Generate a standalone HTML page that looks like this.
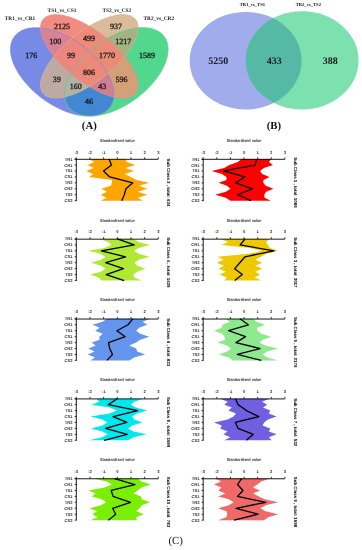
<!DOCTYPE html>
<html><head><meta charset="utf-8"><style>
html,body{margin:0;padding:0;background:#fff;}
svg{display:block;text-rendering:geometricPrecision;}
.na{font-family:"Liberation Serif",serif;font-size:8px;fill:#111;stroke:#111;stroke-width:0.25px;text-anchor:middle;dominant-baseline:central;}
.la{font-family:"Liberation Serif",serif;font-size:5.35px;font-weight:bold;fill:#111;text-anchor:middle;dominant-baseline:central;}
.nb{font-family:"Liberation Serif",serif;font-size:10px;font-weight:bold;fill:#1a1a1a;text-anchor:middle;dominant-baseline:central;}
.lb{font-family:"Liberation Serif",serif;font-size:4.6px;font-weight:bold;fill:#111;text-anchor:middle;dominant-baseline:central;}
.pl{font-family:"Liberation Serif",serif;font-size:10.8px;font-weight:bold;fill:#111;text-anchor:middle;}
.pc{font-family:"Liberation Serif",serif;font-size:10.8px;fill:#111;text-anchor:middle;}
.tk{font-family:"Liberation Sans",sans-serif;font-size:4.2px;font-weight:bold;fill:#333;text-anchor:middle;dominant-baseline:central;}
.yl{font-family:"Liberation Sans",sans-serif;font-size:4.2px;font-weight:bold;fill:#333;text-anchor:end;}
.st{font-family:"Liberation Sans",sans-serif;font-size:4.2px;font-weight:bold;fill:#333;dominant-baseline:central;}
.sc{font-family:"Liberation Sans",sans-serif;font-size:4.4px;font-weight:bold;fill:#000;text-anchor:middle;}
</style></head><body>
<svg width="362" height="550" viewBox="0 0 362 550">
<defs><clipPath id="e1"><path d="M17.32,33.49 L16.45,34.28 L15.64,35.11 L14.88,35.99 L14.19,36.91 L13.55,37.88 L12.97,38.89 L12.45,39.93 L11.99,41.02 L11.59,42.14 L11.26,43.30 L10.98,44.49 L10.77,45.72 L10.62,46.98 L10.54,48.27 L10.51,49.59 L10.55,50.93 L10.66,52.31 L10.82,53.70 L11.05,55.12 L11.34,56.55 L11.69,58.01 L12.10,59.48 L12.58,60.97 L13.11,62.47 L13.71,63.98 L14.36,65.51 L15.07,67.04 L15.84,68.57 L16.66,70.11 L17.54,71.65 L18.48,73.20 L19.47,74.74 L20.51,76.27 L21.60,77.80 L22.74,79.33 L23.93,80.84 L25.16,82.35 L26.44,83.84 L27.76,85.32 L29.13,86.78 L30.54,88.22 L31.98,89.64 L33.46,91.04 L34.98,92.42 L36.52,93.77 L38.10,95.10 L39.71,96.39 L41.35,97.66 L43.01,98.90 L44.70,100.10 L46.40,101.27 L48.13,102.40 L49.87,103.49 L51.63,104.55 L53.40,105.57 L55.18,106.54 L56.97,107.48 L58.76,108.37 L60.56,109.21 L62.36,110.01 L64.17,110.77 L65.97,111.47 L67.76,112.13 L69.55,112.74 L71.33,113.30 L73.09,113.81 L74.85,114.27 L76.58,114.67 L78.31,115.02 L80.01,115.33 L81.69,115.57 L83.34,115.77 L84.97,115.91 L86.57,116.00 L88.14,116.03 L89.68,116.01 L91.19,115.94 L92.66,115.81 L94.10,115.63 L95.49,115.39 L96.85,115.11 L98.16,114.77 L99.43,114.37 L100.65,113.93 L101.83,113.43 L102.95,112.89 L104.03,112.29 L105.06,111.65 L106.03,110.95 L106.95,110.21 L107.82,109.42 L108.63,108.59 L109.39,107.71 L110.08,106.79 L110.72,105.82 L111.30,104.81 L111.82,103.77 L112.28,102.68 L112.68,101.56 L113.01,100.40 L113.29,99.21 L113.50,97.98 L113.65,96.72 L113.73,95.43 L113.76,94.11 L113.72,92.77 L113.61,91.39 L113.45,90.00 L113.22,88.58 L112.93,87.15 L112.58,85.69 L112.17,84.22 L111.69,82.73 L111.16,81.23 L110.56,79.72 L109.91,78.19 L109.20,76.66 L108.43,75.13 L107.61,73.59 L106.73,72.05 L105.79,70.50 L104.80,68.96 L103.76,67.43 L102.67,65.90 L101.53,64.37 L100.34,62.86 L99.11,61.35 L97.83,59.86 L96.51,58.38 L95.14,56.92 L93.73,55.48 L92.29,54.06 L90.81,52.66 L89.29,51.28 L87.75,49.93 L86.17,48.60 L84.56,47.31 L82.92,46.04 L81.26,44.80 L79.57,43.60 L77.87,42.43 L76.14,41.30 L74.40,40.21 L72.64,39.15 L70.87,38.13 L69.09,37.16 L67.30,36.22 L65.51,35.33 L63.71,34.49 L61.91,33.69 L60.10,32.93 L58.30,32.23 L56.51,31.57 L54.72,30.96 L52.94,30.40 L51.18,29.89 L49.42,29.43 L47.69,29.03 L45.96,28.68 L44.26,28.37 L42.58,28.13 L40.93,27.93 L39.30,27.79 L37.70,27.70 L36.13,27.67 L34.59,27.69 L33.08,27.76 L31.61,27.89 L30.17,28.07 L28.78,28.31 L27.42,28.59 L26.11,28.93 L24.84,29.33 L23.62,29.77 L22.44,30.27 L21.32,30.81 L20.24,31.41 L19.21,32.05 L18.24,32.75 Z"/></clipPath><clipPath id="e2"><path d="M44.48,17.99 L43.84,18.59 L43.25,19.23 L42.72,19.92 L42.24,20.65 L41.83,21.43 L41.47,22.25 L41.16,23.11 L40.92,24.01 L40.74,24.95 L40.61,25.93 L40.55,26.94 L40.54,27.99 L40.60,29.08 L40.71,30.20 L40.88,31.35 L41.11,32.53 L41.40,33.74 L41.75,34.98 L42.16,36.24 L42.62,37.53 L43.14,38.84 L43.72,40.18 L44.35,41.53 L45.03,42.90 L45.78,44.29 L46.57,45.69 L47.42,47.10 L48.31,48.53 L49.26,49.96 L50.25,51.41 L51.30,52.86 L52.39,54.31 L53.52,55.77 L54.70,57.22 L55.92,58.68 L57.18,60.13 L58.48,61.58 L59.82,63.02 L61.19,64.46 L62.60,65.88 L64.04,67.29 L65.51,68.69 L67.01,70.07 L68.54,71.44 L70.09,72.79 L71.67,74.12 L73.26,75.43 L74.88,76.71 L76.52,77.97 L78.17,79.20 L79.83,80.41 L81.50,81.58 L83.19,82.73 L84.88,83.84 L86.58,84.92 L88.28,85.96 L89.98,86.97 L91.68,87.94 L93.38,88.88 L95.07,89.77 L96.76,90.62 L98.44,91.43 L100.10,92.20 L101.76,92.92 L103.40,93.60 L105.02,94.24 L106.62,94.82 L108.20,95.36 L109.75,95.86 L111.29,96.30 L112.79,96.70 L114.27,97.05 L115.72,97.35 L117.13,97.59 L118.51,97.79 L119.86,97.94 L121.16,98.04 L122.43,98.08 L123.66,98.08 L124.85,98.02 L125.99,97.91 L127.09,97.76 L128.14,97.55 L129.15,97.29 L130.10,96.98 L131.01,96.63 L131.87,96.22 L132.67,95.76 L133.42,95.26 L134.12,94.71 L134.76,94.11 L135.35,93.47 L135.88,92.78 L136.36,92.05 L136.77,91.27 L137.13,90.45 L137.44,89.59 L137.68,88.69 L137.86,87.75 L137.99,86.77 L138.05,85.76 L138.06,84.71 L138.00,83.62 L137.89,82.50 L137.72,81.35 L137.49,80.17 L137.20,78.96 L136.85,77.72 L136.44,76.46 L135.98,75.17 L135.46,73.86 L134.88,72.52 L134.25,71.17 L133.57,69.80 L132.82,68.41 L132.03,67.01 L131.18,65.60 L130.29,64.17 L129.34,62.74 L128.35,61.29 L127.30,59.84 L126.21,58.39 L125.08,56.93 L123.90,55.48 L122.68,54.02 L121.42,52.57 L120.12,51.12 L118.78,49.68 L117.41,48.24 L116.00,46.82 L114.56,45.41 L113.09,44.01 L111.59,42.63 L110.06,41.26 L108.51,39.91 L106.93,38.58 L105.34,37.27 L103.72,35.99 L102.08,34.73 L100.43,33.50 L98.77,32.29 L97.10,31.12 L95.41,29.97 L93.72,28.86 L92.02,27.78 L90.32,26.74 L88.62,25.73 L86.92,24.76 L85.22,23.82 L83.53,22.93 L81.84,22.08 L80.16,21.27 L78.50,20.50 L76.84,19.78 L75.20,19.10 L73.58,18.46 L71.98,17.88 L70.40,17.34 L68.85,16.84 L67.31,16.40 L65.81,16.00 L64.33,15.65 L62.88,15.35 L61.47,15.11 L60.09,14.91 L58.74,14.76 L57.44,14.66 L56.17,14.62 L54.94,14.62 L53.75,14.68 L52.61,14.79 L51.51,14.94 L50.46,15.15 L49.45,15.41 L48.50,15.72 L47.59,16.07 L46.73,16.48 L45.93,16.94 L45.18,17.44 Z"/></clipPath><clipPath id="e3"><path d="M134.12,17.99 L133.42,17.44 L132.67,16.94 L131.87,16.48 L131.01,16.07 L130.10,15.72 L129.15,15.41 L128.14,15.15 L127.09,14.94 L125.99,14.79 L124.85,14.68 L123.66,14.62 L122.43,14.62 L121.16,14.66 L119.86,14.76 L118.51,14.91 L117.13,15.11 L115.72,15.35 L114.27,15.65 L112.79,16.00 L111.29,16.40 L109.75,16.84 L108.20,17.34 L106.62,17.88 L105.02,18.46 L103.40,19.10 L101.76,19.78 L100.10,20.50 L98.44,21.27 L96.76,22.08 L95.07,22.93 L93.38,23.82 L91.68,24.76 L89.98,25.73 L88.28,26.74 L86.58,27.78 L84.88,28.86 L83.19,29.97 L81.50,31.12 L79.83,32.29 L78.17,33.50 L76.52,34.73 L74.88,35.99 L73.26,37.27 L71.67,38.58 L70.09,39.91 L68.54,41.26 L67.01,42.63 L65.51,44.01 L64.04,45.41 L62.60,46.82 L61.19,48.24 L59.82,49.68 L58.48,51.12 L57.18,52.57 L55.92,54.02 L54.70,55.48 L53.52,56.93 L52.39,58.39 L51.30,59.84 L50.25,61.29 L49.26,62.74 L48.31,64.17 L47.42,65.60 L46.57,67.01 L45.78,68.41 L45.03,69.80 L44.35,71.17 L43.72,72.52 L43.14,73.86 L42.62,75.17 L42.16,76.46 L41.75,77.72 L41.40,78.96 L41.11,80.17 L40.88,81.35 L40.71,82.50 L40.60,83.62 L40.54,84.71 L40.55,85.76 L40.61,86.77 L40.74,87.75 L40.92,88.69 L41.16,89.59 L41.47,90.45 L41.83,91.27 L42.24,92.05 L42.72,92.78 L43.25,93.47 L43.84,94.11 L44.48,94.71 L45.18,95.26 L45.93,95.76 L46.73,96.22 L47.59,96.63 L48.50,96.98 L49.45,97.29 L50.46,97.55 L51.51,97.76 L52.61,97.91 L53.75,98.02 L54.94,98.08 L56.17,98.08 L57.44,98.04 L58.74,97.94 L60.09,97.79 L61.47,97.59 L62.88,97.35 L64.33,97.05 L65.81,96.70 L67.31,96.30 L68.85,95.86 L70.40,95.36 L71.98,94.82 L73.58,94.24 L75.20,93.60 L76.84,92.92 L78.50,92.20 L80.16,91.43 L81.84,90.62 L83.53,89.77 L85.22,88.88 L86.92,87.94 L88.62,86.97 L90.32,85.96 L92.02,84.92 L93.72,83.84 L95.41,82.73 L97.10,81.58 L98.77,80.41 L100.43,79.20 L102.08,77.97 L103.72,76.71 L105.34,75.43 L106.93,74.12 L108.51,72.79 L110.06,71.44 L111.59,70.07 L113.09,68.69 L114.56,67.29 L116.00,65.88 L117.41,64.46 L118.78,63.02 L120.12,61.58 L121.42,60.13 L122.68,58.68 L123.90,57.22 L125.08,55.77 L126.21,54.31 L127.30,52.86 L128.35,51.41 L129.34,49.96 L130.29,48.53 L131.18,47.10 L132.03,45.69 L132.82,44.29 L133.57,42.90 L134.25,41.53 L134.88,40.18 L135.46,38.84 L135.98,37.53 L136.44,36.24 L136.85,34.98 L137.20,33.74 L137.49,32.53 L137.72,31.35 L137.89,30.20 L138.00,29.08 L138.06,27.99 L138.05,26.94 L137.99,25.93 L137.86,24.95 L137.68,24.01 L137.44,23.11 L137.13,22.25 L136.77,21.43 L136.36,20.65 L135.88,19.92 L135.35,19.23 L134.76,18.59 Z"/></clipPath><clipPath id="e4"><path d="M161.28,33.49 L160.36,32.75 L159.39,32.05 L158.36,31.41 L157.28,30.81 L156.16,30.27 L154.98,29.77 L153.76,29.33 L152.49,28.93 L151.18,28.59 L149.82,28.31 L148.43,28.07 L146.99,27.89 L145.52,27.76 L144.01,27.69 L142.47,27.67 L140.90,27.70 L139.30,27.79 L137.67,27.93 L136.02,28.13 L134.34,28.37 L132.64,28.68 L130.91,29.03 L129.18,29.43 L127.42,29.89 L125.66,30.40 L123.88,30.96 L122.09,31.57 L120.30,32.23 L118.50,32.93 L116.69,33.69 L114.89,34.49 L113.09,35.33 L111.30,36.22 L109.51,37.16 L107.73,38.13 L105.96,39.15 L104.20,40.21 L102.46,41.30 L100.73,42.43 L99.03,43.60 L97.34,44.80 L95.68,46.04 L94.04,47.31 L92.43,48.60 L90.85,49.93 L89.31,51.28 L87.79,52.66 L86.31,54.06 L84.87,55.48 L83.46,56.92 L82.09,58.38 L80.77,59.86 L79.49,61.35 L78.26,62.86 L77.07,64.37 L75.93,65.90 L74.84,67.43 L73.80,68.96 L72.81,70.50 L71.87,72.05 L70.99,73.59 L70.17,75.13 L69.40,76.66 L68.69,78.19 L68.04,79.72 L67.44,81.23 L66.91,82.73 L66.43,84.22 L66.02,85.69 L65.67,87.15 L65.38,88.58 L65.15,90.00 L64.99,91.39 L64.88,92.77 L64.84,94.11 L64.87,95.43 L64.95,96.72 L65.10,97.98 L65.31,99.21 L65.59,100.40 L65.92,101.56 L66.32,102.68 L66.78,103.77 L67.30,104.81 L67.88,105.82 L68.52,106.79 L69.21,107.71 L69.97,108.59 L70.78,109.42 L71.65,110.21 L72.57,110.95 L73.54,111.65 L74.57,112.29 L75.65,112.89 L76.77,113.43 L77.95,113.93 L79.17,114.37 L80.44,114.77 L81.75,115.11 L83.11,115.39 L84.50,115.63 L85.94,115.81 L87.41,115.94 L88.92,116.01 L90.46,116.03 L92.03,116.00 L93.63,115.91 L95.26,115.77 L96.91,115.57 L98.59,115.33 L100.29,115.02 L102.02,114.67 L103.75,114.27 L105.51,113.81 L107.27,113.30 L109.05,112.74 L110.84,112.13 L112.63,111.47 L114.43,110.77 L116.24,110.01 L118.04,109.21 L119.84,108.37 L121.63,107.48 L123.42,106.54 L125.20,105.57 L126.97,104.55 L128.73,103.49 L130.47,102.40 L132.20,101.27 L133.90,100.10 L135.59,98.90 L137.25,97.66 L138.89,96.39 L140.50,95.10 L142.08,93.77 L143.62,92.42 L145.14,91.04 L146.62,89.64 L148.06,88.22 L149.47,86.78 L150.84,85.32 L152.16,83.84 L153.44,82.35 L154.67,80.84 L155.86,79.33 L157.00,77.80 L158.09,76.27 L159.13,74.74 L160.12,73.20 L161.06,71.65 L161.94,70.11 L162.76,68.57 L163.53,67.04 L164.24,65.51 L164.89,63.98 L165.49,62.47 L166.02,60.97 L166.50,59.48 L166.91,58.01 L167.26,56.55 L167.55,55.12 L167.78,53.70 L167.94,52.31 L168.05,50.93 L168.09,49.59 L168.06,48.27 L167.98,46.98 L167.83,45.72 L167.62,44.49 L167.34,43.30 L167.01,42.14 L166.61,41.02 L166.15,39.93 L165.63,38.89 L165.05,37.88 L164.41,36.91 L163.72,35.99 L162.96,35.11 L162.15,34.28 Z"/></clipPath><clipPath id="bb"><ellipse cx="245.65" cy="60.7" rx="55.95" ry="48.8"/></clipPath></defs>
<path d="M17.32,33.49 L16.45,34.28 L15.64,35.11 L14.88,35.99 L14.19,36.91 L13.55,37.88 L12.97,38.89 L12.45,39.93 L11.99,41.02 L11.59,42.14 L11.26,43.30 L10.98,44.49 L10.77,45.72 L10.62,46.98 L10.54,48.27 L10.51,49.59 L10.55,50.93 L10.66,52.31 L10.82,53.70 L11.05,55.12 L11.34,56.55 L11.69,58.01 L12.10,59.48 L12.58,60.97 L13.11,62.47 L13.71,63.98 L14.36,65.51 L15.07,67.04 L15.84,68.57 L16.66,70.11 L17.54,71.65 L18.48,73.20 L19.47,74.74 L20.51,76.27 L21.60,77.80 L22.74,79.33 L23.93,80.84 L25.16,82.35 L26.44,83.84 L27.76,85.32 L29.13,86.78 L30.54,88.22 L31.98,89.64 L33.46,91.04 L34.98,92.42 L36.52,93.77 L38.10,95.10 L39.71,96.39 L41.35,97.66 L43.01,98.90 L44.70,100.10 L46.40,101.27 L48.13,102.40 L49.87,103.49 L51.63,104.55 L53.40,105.57 L55.18,106.54 L56.97,107.48 L58.76,108.37 L60.56,109.21 L62.36,110.01 L64.17,110.77 L65.97,111.47 L67.76,112.13 L69.55,112.74 L71.33,113.30 L73.09,113.81 L74.85,114.27 L76.58,114.67 L78.31,115.02 L80.01,115.33 L81.69,115.57 L83.34,115.77 L84.97,115.91 L86.57,116.00 L88.14,116.03 L89.68,116.01 L91.19,115.94 L92.66,115.81 L94.10,115.63 L95.49,115.39 L96.85,115.11 L98.16,114.77 L99.43,114.37 L100.65,113.93 L101.83,113.43 L102.95,112.89 L104.03,112.29 L105.06,111.65 L106.03,110.95 L106.95,110.21 L107.82,109.42 L108.63,108.59 L109.39,107.71 L110.08,106.79 L110.72,105.82 L111.30,104.81 L111.82,103.77 L112.28,102.68 L112.68,101.56 L113.01,100.40 L113.29,99.21 L113.50,97.98 L113.65,96.72 L113.73,95.43 L113.76,94.11 L113.72,92.77 L113.61,91.39 L113.45,90.00 L113.22,88.58 L112.93,87.15 L112.58,85.69 L112.17,84.22 L111.69,82.73 L111.16,81.23 L110.56,79.72 L109.91,78.19 L109.20,76.66 L108.43,75.13 L107.61,73.59 L106.73,72.05 L105.79,70.50 L104.80,68.96 L103.76,67.43 L102.67,65.90 L101.53,64.37 L100.34,62.86 L99.11,61.35 L97.83,59.86 L96.51,58.38 L95.14,56.92 L93.73,55.48 L92.29,54.06 L90.81,52.66 L89.29,51.28 L87.75,49.93 L86.17,48.60 L84.56,47.31 L82.92,46.04 L81.26,44.80 L79.57,43.60 L77.87,42.43 L76.14,41.30 L74.40,40.21 L72.64,39.15 L70.87,38.13 L69.09,37.16 L67.30,36.22 L65.51,35.33 L63.71,34.49 L61.91,33.69 L60.10,32.93 L58.30,32.23 L56.51,31.57 L54.72,30.96 L52.94,30.40 L51.18,29.89 L49.42,29.43 L47.69,29.03 L45.96,28.68 L44.26,28.37 L42.58,28.13 L40.93,27.93 L39.30,27.79 L37.70,27.70 L36.13,27.67 L34.59,27.69 L33.08,27.76 L31.61,27.89 L30.17,28.07 L28.78,28.31 L27.42,28.59 L26.11,28.93 L24.84,29.33 L23.62,29.77 L22.44,30.27 L21.32,30.81 L20.24,31.41 L19.21,32.05 L18.24,32.75 Z" fill="rgb(118,138,230)"/>
<path d="M44.48,17.99 L43.84,18.59 L43.25,19.23 L42.72,19.92 L42.24,20.65 L41.83,21.43 L41.47,22.25 L41.16,23.11 L40.92,24.01 L40.74,24.95 L40.61,25.93 L40.55,26.94 L40.54,27.99 L40.60,29.08 L40.71,30.20 L40.88,31.35 L41.11,32.53 L41.40,33.74 L41.75,34.98 L42.16,36.24 L42.62,37.53 L43.14,38.84 L43.72,40.18 L44.35,41.53 L45.03,42.90 L45.78,44.29 L46.57,45.69 L47.42,47.10 L48.31,48.53 L49.26,49.96 L50.25,51.41 L51.30,52.86 L52.39,54.31 L53.52,55.77 L54.70,57.22 L55.92,58.68 L57.18,60.13 L58.48,61.58 L59.82,63.02 L61.19,64.46 L62.60,65.88 L64.04,67.29 L65.51,68.69 L67.01,70.07 L68.54,71.44 L70.09,72.79 L71.67,74.12 L73.26,75.43 L74.88,76.71 L76.52,77.97 L78.17,79.20 L79.83,80.41 L81.50,81.58 L83.19,82.73 L84.88,83.84 L86.58,84.92 L88.28,85.96 L89.98,86.97 L91.68,87.94 L93.38,88.88 L95.07,89.77 L96.76,90.62 L98.44,91.43 L100.10,92.20 L101.76,92.92 L103.40,93.60 L105.02,94.24 L106.62,94.82 L108.20,95.36 L109.75,95.86 L111.29,96.30 L112.79,96.70 L114.27,97.05 L115.72,97.35 L117.13,97.59 L118.51,97.79 L119.86,97.94 L121.16,98.04 L122.43,98.08 L123.66,98.08 L124.85,98.02 L125.99,97.91 L127.09,97.76 L128.14,97.55 L129.15,97.29 L130.10,96.98 L131.01,96.63 L131.87,96.22 L132.67,95.76 L133.42,95.26 L134.12,94.71 L134.76,94.11 L135.35,93.47 L135.88,92.78 L136.36,92.05 L136.77,91.27 L137.13,90.45 L137.44,89.59 L137.68,88.69 L137.86,87.75 L137.99,86.77 L138.05,85.76 L138.06,84.71 L138.00,83.62 L137.89,82.50 L137.72,81.35 L137.49,80.17 L137.20,78.96 L136.85,77.72 L136.44,76.46 L135.98,75.17 L135.46,73.86 L134.88,72.52 L134.25,71.17 L133.57,69.80 L132.82,68.41 L132.03,67.01 L131.18,65.60 L130.29,64.17 L129.34,62.74 L128.35,61.29 L127.30,59.84 L126.21,58.39 L125.08,56.93 L123.90,55.48 L122.68,54.02 L121.42,52.57 L120.12,51.12 L118.78,49.68 L117.41,48.24 L116.00,46.82 L114.56,45.41 L113.09,44.01 L111.59,42.63 L110.06,41.26 L108.51,39.91 L106.93,38.58 L105.34,37.27 L103.72,35.99 L102.08,34.73 L100.43,33.50 L98.77,32.29 L97.10,31.12 L95.41,29.97 L93.72,28.86 L92.02,27.78 L90.32,26.74 L88.62,25.73 L86.92,24.76 L85.22,23.82 L83.53,22.93 L81.84,22.08 L80.16,21.27 L78.50,20.50 L76.84,19.78 L75.20,19.10 L73.58,18.46 L71.98,17.88 L70.40,17.34 L68.85,16.84 L67.31,16.40 L65.81,16.00 L64.33,15.65 L62.88,15.35 L61.47,15.11 L60.09,14.91 L58.74,14.76 L57.44,14.66 L56.17,14.62 L54.94,14.62 L53.75,14.68 L52.61,14.79 L51.51,14.94 L50.46,15.15 L49.45,15.41 L48.50,15.72 L47.59,16.07 L46.73,16.48 L45.93,16.94 L45.18,17.44 Z" fill="rgb(242,140,130)"/>
<path d="M134.12,17.99 L133.42,17.44 L132.67,16.94 L131.87,16.48 L131.01,16.07 L130.10,15.72 L129.15,15.41 L128.14,15.15 L127.09,14.94 L125.99,14.79 L124.85,14.68 L123.66,14.62 L122.43,14.62 L121.16,14.66 L119.86,14.76 L118.51,14.91 L117.13,15.11 L115.72,15.35 L114.27,15.65 L112.79,16.00 L111.29,16.40 L109.75,16.84 L108.20,17.34 L106.62,17.88 L105.02,18.46 L103.40,19.10 L101.76,19.78 L100.10,20.50 L98.44,21.27 L96.76,22.08 L95.07,22.93 L93.38,23.82 L91.68,24.76 L89.98,25.73 L88.28,26.74 L86.58,27.78 L84.88,28.86 L83.19,29.97 L81.50,31.12 L79.83,32.29 L78.17,33.50 L76.52,34.73 L74.88,35.99 L73.26,37.27 L71.67,38.58 L70.09,39.91 L68.54,41.26 L67.01,42.63 L65.51,44.01 L64.04,45.41 L62.60,46.82 L61.19,48.24 L59.82,49.68 L58.48,51.12 L57.18,52.57 L55.92,54.02 L54.70,55.48 L53.52,56.93 L52.39,58.39 L51.30,59.84 L50.25,61.29 L49.26,62.74 L48.31,64.17 L47.42,65.60 L46.57,67.01 L45.78,68.41 L45.03,69.80 L44.35,71.17 L43.72,72.52 L43.14,73.86 L42.62,75.17 L42.16,76.46 L41.75,77.72 L41.40,78.96 L41.11,80.17 L40.88,81.35 L40.71,82.50 L40.60,83.62 L40.54,84.71 L40.55,85.76 L40.61,86.77 L40.74,87.75 L40.92,88.69 L41.16,89.59 L41.47,90.45 L41.83,91.27 L42.24,92.05 L42.72,92.78 L43.25,93.47 L43.84,94.11 L44.48,94.71 L45.18,95.26 L45.93,95.76 L46.73,96.22 L47.59,96.63 L48.50,96.98 L49.45,97.29 L50.46,97.55 L51.51,97.76 L52.61,97.91 L53.75,98.02 L54.94,98.08 L56.17,98.08 L57.44,98.04 L58.74,97.94 L60.09,97.79 L61.47,97.59 L62.88,97.35 L64.33,97.05 L65.81,96.70 L67.31,96.30 L68.85,95.86 L70.40,95.36 L71.98,94.82 L73.58,94.24 L75.20,93.60 L76.84,92.92 L78.50,92.20 L80.16,91.43 L81.84,90.62 L83.53,89.77 L85.22,88.88 L86.92,87.94 L88.62,86.97 L90.32,85.96 L92.02,84.92 L93.72,83.84 L95.41,82.73 L97.10,81.58 L98.77,80.41 L100.43,79.20 L102.08,77.97 L103.72,76.71 L105.34,75.43 L106.93,74.12 L108.51,72.79 L110.06,71.44 L111.59,70.07 L113.09,68.69 L114.56,67.29 L116.00,65.88 L117.41,64.46 L118.78,63.02 L120.12,61.58 L121.42,60.13 L122.68,58.68 L123.90,57.22 L125.08,55.77 L126.21,54.31 L127.30,52.86 L128.35,51.41 L129.34,49.96 L130.29,48.53 L131.18,47.10 L132.03,45.69 L132.82,44.29 L133.57,42.90 L134.25,41.53 L134.88,40.18 L135.46,38.84 L135.98,37.53 L136.44,36.24 L136.85,34.98 L137.20,33.74 L137.49,32.53 L137.72,31.35 L137.89,30.20 L138.00,29.08 L138.06,27.99 L138.05,26.94 L137.99,25.93 L137.86,24.95 L137.68,24.01 L137.44,23.11 L137.13,22.25 L136.77,21.43 L136.36,20.65 L135.88,19.92 L135.35,19.23 L134.76,18.59 Z" fill="rgb(218,188,155)"/>
<path d="M161.28,33.49 L160.36,32.75 L159.39,32.05 L158.36,31.41 L157.28,30.81 L156.16,30.27 L154.98,29.77 L153.76,29.33 L152.49,28.93 L151.18,28.59 L149.82,28.31 L148.43,28.07 L146.99,27.89 L145.52,27.76 L144.01,27.69 L142.47,27.67 L140.90,27.70 L139.30,27.79 L137.67,27.93 L136.02,28.13 L134.34,28.37 L132.64,28.68 L130.91,29.03 L129.18,29.43 L127.42,29.89 L125.66,30.40 L123.88,30.96 L122.09,31.57 L120.30,32.23 L118.50,32.93 L116.69,33.69 L114.89,34.49 L113.09,35.33 L111.30,36.22 L109.51,37.16 L107.73,38.13 L105.96,39.15 L104.20,40.21 L102.46,41.30 L100.73,42.43 L99.03,43.60 L97.34,44.80 L95.68,46.04 L94.04,47.31 L92.43,48.60 L90.85,49.93 L89.31,51.28 L87.79,52.66 L86.31,54.06 L84.87,55.48 L83.46,56.92 L82.09,58.38 L80.77,59.86 L79.49,61.35 L78.26,62.86 L77.07,64.37 L75.93,65.90 L74.84,67.43 L73.80,68.96 L72.81,70.50 L71.87,72.05 L70.99,73.59 L70.17,75.13 L69.40,76.66 L68.69,78.19 L68.04,79.72 L67.44,81.23 L66.91,82.73 L66.43,84.22 L66.02,85.69 L65.67,87.15 L65.38,88.58 L65.15,90.00 L64.99,91.39 L64.88,92.77 L64.84,94.11 L64.87,95.43 L64.95,96.72 L65.10,97.98 L65.31,99.21 L65.59,100.40 L65.92,101.56 L66.32,102.68 L66.78,103.77 L67.30,104.81 L67.88,105.82 L68.52,106.79 L69.21,107.71 L69.97,108.59 L70.78,109.42 L71.65,110.21 L72.57,110.95 L73.54,111.65 L74.57,112.29 L75.65,112.89 L76.77,113.43 L77.95,113.93 L79.17,114.37 L80.44,114.77 L81.75,115.11 L83.11,115.39 L84.50,115.63 L85.94,115.81 L87.41,115.94 L88.92,116.01 L90.46,116.03 L92.03,116.00 L93.63,115.91 L95.26,115.77 L96.91,115.57 L98.59,115.33 L100.29,115.02 L102.02,114.67 L103.75,114.27 L105.51,113.81 L107.27,113.30 L109.05,112.74 L110.84,112.13 L112.63,111.47 L114.43,110.77 L116.24,110.01 L118.04,109.21 L119.84,108.37 L121.63,107.48 L123.42,106.54 L125.20,105.57 L126.97,104.55 L128.73,103.49 L130.47,102.40 L132.20,101.27 L133.90,100.10 L135.59,98.90 L137.25,97.66 L138.89,96.39 L140.50,95.10 L142.08,93.77 L143.62,92.42 L145.14,91.04 L146.62,89.64 L148.06,88.22 L149.47,86.78 L150.84,85.32 L152.16,83.84 L153.44,82.35 L154.67,80.84 L155.86,79.33 L157.00,77.80 L158.09,76.27 L159.13,74.74 L160.12,73.20 L161.06,71.65 L161.94,70.11 L162.76,68.57 L163.53,67.04 L164.24,65.51 L164.89,63.98 L165.49,62.47 L166.02,60.97 L166.50,59.48 L166.91,58.01 L167.26,56.55 L167.55,55.12 L167.78,53.70 L167.94,52.31 L168.05,50.93 L168.09,49.59 L168.06,48.27 L167.98,46.98 L167.83,45.72 L167.62,44.49 L167.34,43.30 L167.01,42.14 L166.61,41.02 L166.15,39.93 L165.63,38.89 L165.05,37.88 L164.41,36.91 L163.72,35.99 L162.96,35.11 L162.15,34.28 Z" fill="rgb(82,215,142)"/>
<g clip-path="url(#e1)"><path d="M44.48,17.99 L43.84,18.59 L43.25,19.23 L42.72,19.92 L42.24,20.65 L41.83,21.43 L41.47,22.25 L41.16,23.11 L40.92,24.01 L40.74,24.95 L40.61,25.93 L40.55,26.94 L40.54,27.99 L40.60,29.08 L40.71,30.20 L40.88,31.35 L41.11,32.53 L41.40,33.74 L41.75,34.98 L42.16,36.24 L42.62,37.53 L43.14,38.84 L43.72,40.18 L44.35,41.53 L45.03,42.90 L45.78,44.29 L46.57,45.69 L47.42,47.10 L48.31,48.53 L49.26,49.96 L50.25,51.41 L51.30,52.86 L52.39,54.31 L53.52,55.77 L54.70,57.22 L55.92,58.68 L57.18,60.13 L58.48,61.58 L59.82,63.02 L61.19,64.46 L62.60,65.88 L64.04,67.29 L65.51,68.69 L67.01,70.07 L68.54,71.44 L70.09,72.79 L71.67,74.12 L73.26,75.43 L74.88,76.71 L76.52,77.97 L78.17,79.20 L79.83,80.41 L81.50,81.58 L83.19,82.73 L84.88,83.84 L86.58,84.92 L88.28,85.96 L89.98,86.97 L91.68,87.94 L93.38,88.88 L95.07,89.77 L96.76,90.62 L98.44,91.43 L100.10,92.20 L101.76,92.92 L103.40,93.60 L105.02,94.24 L106.62,94.82 L108.20,95.36 L109.75,95.86 L111.29,96.30 L112.79,96.70 L114.27,97.05 L115.72,97.35 L117.13,97.59 L118.51,97.79 L119.86,97.94 L121.16,98.04 L122.43,98.08 L123.66,98.08 L124.85,98.02 L125.99,97.91 L127.09,97.76 L128.14,97.55 L129.15,97.29 L130.10,96.98 L131.01,96.63 L131.87,96.22 L132.67,95.76 L133.42,95.26 L134.12,94.71 L134.76,94.11 L135.35,93.47 L135.88,92.78 L136.36,92.05 L136.77,91.27 L137.13,90.45 L137.44,89.59 L137.68,88.69 L137.86,87.75 L137.99,86.77 L138.05,85.76 L138.06,84.71 L138.00,83.62 L137.89,82.50 L137.72,81.35 L137.49,80.17 L137.20,78.96 L136.85,77.72 L136.44,76.46 L135.98,75.17 L135.46,73.86 L134.88,72.52 L134.25,71.17 L133.57,69.80 L132.82,68.41 L132.03,67.01 L131.18,65.60 L130.29,64.17 L129.34,62.74 L128.35,61.29 L127.30,59.84 L126.21,58.39 L125.08,56.93 L123.90,55.48 L122.68,54.02 L121.42,52.57 L120.12,51.12 L118.78,49.68 L117.41,48.24 L116.00,46.82 L114.56,45.41 L113.09,44.01 L111.59,42.63 L110.06,41.26 L108.51,39.91 L106.93,38.58 L105.34,37.27 L103.72,35.99 L102.08,34.73 L100.43,33.50 L98.77,32.29 L97.10,31.12 L95.41,29.97 L93.72,28.86 L92.02,27.78 L90.32,26.74 L88.62,25.73 L86.92,24.76 L85.22,23.82 L83.53,22.93 L81.84,22.08 L80.16,21.27 L78.50,20.50 L76.84,19.78 L75.20,19.10 L73.58,18.46 L71.98,17.88 L70.40,17.34 L68.85,16.84 L67.31,16.40 L65.81,16.00 L64.33,15.65 L62.88,15.35 L61.47,15.11 L60.09,14.91 L58.74,14.76 L57.44,14.66 L56.17,14.62 L54.94,14.62 L53.75,14.68 L52.61,14.79 L51.51,14.94 L50.46,15.15 L49.45,15.41 L48.50,15.72 L47.59,16.07 L46.73,16.48 L45.93,16.94 L45.18,17.44 Z" fill="rgb(215,130,150)"/></g>
<g clip-path="url(#e1)"><path d="M134.12,17.99 L133.42,17.44 L132.67,16.94 L131.87,16.48 L131.01,16.07 L130.10,15.72 L129.15,15.41 L128.14,15.15 L127.09,14.94 L125.99,14.79 L124.85,14.68 L123.66,14.62 L122.43,14.62 L121.16,14.66 L119.86,14.76 L118.51,14.91 L117.13,15.11 L115.72,15.35 L114.27,15.65 L112.79,16.00 L111.29,16.40 L109.75,16.84 L108.20,17.34 L106.62,17.88 L105.02,18.46 L103.40,19.10 L101.76,19.78 L100.10,20.50 L98.44,21.27 L96.76,22.08 L95.07,22.93 L93.38,23.82 L91.68,24.76 L89.98,25.73 L88.28,26.74 L86.58,27.78 L84.88,28.86 L83.19,29.97 L81.50,31.12 L79.83,32.29 L78.17,33.50 L76.52,34.73 L74.88,35.99 L73.26,37.27 L71.67,38.58 L70.09,39.91 L68.54,41.26 L67.01,42.63 L65.51,44.01 L64.04,45.41 L62.60,46.82 L61.19,48.24 L59.82,49.68 L58.48,51.12 L57.18,52.57 L55.92,54.02 L54.70,55.48 L53.52,56.93 L52.39,58.39 L51.30,59.84 L50.25,61.29 L49.26,62.74 L48.31,64.17 L47.42,65.60 L46.57,67.01 L45.78,68.41 L45.03,69.80 L44.35,71.17 L43.72,72.52 L43.14,73.86 L42.62,75.17 L42.16,76.46 L41.75,77.72 L41.40,78.96 L41.11,80.17 L40.88,81.35 L40.71,82.50 L40.60,83.62 L40.54,84.71 L40.55,85.76 L40.61,86.77 L40.74,87.75 L40.92,88.69 L41.16,89.59 L41.47,90.45 L41.83,91.27 L42.24,92.05 L42.72,92.78 L43.25,93.47 L43.84,94.11 L44.48,94.71 L45.18,95.26 L45.93,95.76 L46.73,96.22 L47.59,96.63 L48.50,96.98 L49.45,97.29 L50.46,97.55 L51.51,97.76 L52.61,97.91 L53.75,98.02 L54.94,98.08 L56.17,98.08 L57.44,98.04 L58.74,97.94 L60.09,97.79 L61.47,97.59 L62.88,97.35 L64.33,97.05 L65.81,96.70 L67.31,96.30 L68.85,95.86 L70.40,95.36 L71.98,94.82 L73.58,94.24 L75.20,93.60 L76.84,92.92 L78.50,92.20 L80.16,91.43 L81.84,90.62 L83.53,89.77 L85.22,88.88 L86.92,87.94 L88.62,86.97 L90.32,85.96 L92.02,84.92 L93.72,83.84 L95.41,82.73 L97.10,81.58 L98.77,80.41 L100.43,79.20 L102.08,77.97 L103.72,76.71 L105.34,75.43 L106.93,74.12 L108.51,72.79 L110.06,71.44 L111.59,70.07 L113.09,68.69 L114.56,67.29 L116.00,65.88 L117.41,64.46 L118.78,63.02 L120.12,61.58 L121.42,60.13 L122.68,58.68 L123.90,57.22 L125.08,55.77 L126.21,54.31 L127.30,52.86 L128.35,51.41 L129.34,49.96 L130.29,48.53 L131.18,47.10 L132.03,45.69 L132.82,44.29 L133.57,42.90 L134.25,41.53 L134.88,40.18 L135.46,38.84 L135.98,37.53 L136.44,36.24 L136.85,34.98 L137.20,33.74 L137.49,32.53 L137.72,31.35 L137.89,30.20 L138.00,29.08 L138.06,27.99 L138.05,26.94 L137.99,25.93 L137.86,24.95 L137.68,24.01 L137.44,23.11 L137.13,22.25 L136.77,21.43 L136.36,20.65 L135.88,19.92 L135.35,19.23 L134.76,18.59 Z" fill="rgb(190,170,165)"/></g>
<g clip-path="url(#e1)"><path d="M161.28,33.49 L160.36,32.75 L159.39,32.05 L158.36,31.41 L157.28,30.81 L156.16,30.27 L154.98,29.77 L153.76,29.33 L152.49,28.93 L151.18,28.59 L149.82,28.31 L148.43,28.07 L146.99,27.89 L145.52,27.76 L144.01,27.69 L142.47,27.67 L140.90,27.70 L139.30,27.79 L137.67,27.93 L136.02,28.13 L134.34,28.37 L132.64,28.68 L130.91,29.03 L129.18,29.43 L127.42,29.89 L125.66,30.40 L123.88,30.96 L122.09,31.57 L120.30,32.23 L118.50,32.93 L116.69,33.69 L114.89,34.49 L113.09,35.33 L111.30,36.22 L109.51,37.16 L107.73,38.13 L105.96,39.15 L104.20,40.21 L102.46,41.30 L100.73,42.43 L99.03,43.60 L97.34,44.80 L95.68,46.04 L94.04,47.31 L92.43,48.60 L90.85,49.93 L89.31,51.28 L87.79,52.66 L86.31,54.06 L84.87,55.48 L83.46,56.92 L82.09,58.38 L80.77,59.86 L79.49,61.35 L78.26,62.86 L77.07,64.37 L75.93,65.90 L74.84,67.43 L73.80,68.96 L72.81,70.50 L71.87,72.05 L70.99,73.59 L70.17,75.13 L69.40,76.66 L68.69,78.19 L68.04,79.72 L67.44,81.23 L66.91,82.73 L66.43,84.22 L66.02,85.69 L65.67,87.15 L65.38,88.58 L65.15,90.00 L64.99,91.39 L64.88,92.77 L64.84,94.11 L64.87,95.43 L64.95,96.72 L65.10,97.98 L65.31,99.21 L65.59,100.40 L65.92,101.56 L66.32,102.68 L66.78,103.77 L67.30,104.81 L67.88,105.82 L68.52,106.79 L69.21,107.71 L69.97,108.59 L70.78,109.42 L71.65,110.21 L72.57,110.95 L73.54,111.65 L74.57,112.29 L75.65,112.89 L76.77,113.43 L77.95,113.93 L79.17,114.37 L80.44,114.77 L81.75,115.11 L83.11,115.39 L84.50,115.63 L85.94,115.81 L87.41,115.94 L88.92,116.01 L90.46,116.03 L92.03,116.00 L93.63,115.91 L95.26,115.77 L96.91,115.57 L98.59,115.33 L100.29,115.02 L102.02,114.67 L103.75,114.27 L105.51,113.81 L107.27,113.30 L109.05,112.74 L110.84,112.13 L112.63,111.47 L114.43,110.77 L116.24,110.01 L118.04,109.21 L119.84,108.37 L121.63,107.48 L123.42,106.54 L125.20,105.57 L126.97,104.55 L128.73,103.49 L130.47,102.40 L132.20,101.27 L133.90,100.10 L135.59,98.90 L137.25,97.66 L138.89,96.39 L140.50,95.10 L142.08,93.77 L143.62,92.42 L145.14,91.04 L146.62,89.64 L148.06,88.22 L149.47,86.78 L150.84,85.32 L152.16,83.84 L153.44,82.35 L154.67,80.84 L155.86,79.33 L157.00,77.80 L158.09,76.27 L159.13,74.74 L160.12,73.20 L161.06,71.65 L161.94,70.11 L162.76,68.57 L163.53,67.04 L164.24,65.51 L164.89,63.98 L165.49,62.47 L166.02,60.97 L166.50,59.48 L166.91,58.01 L167.26,56.55 L167.55,55.12 L167.78,53.70 L167.94,52.31 L168.05,50.93 L168.09,49.59 L168.06,48.27 L167.98,46.98 L167.83,45.72 L167.62,44.49 L167.34,43.30 L167.01,42.14 L166.61,41.02 L166.15,39.93 L165.63,38.89 L165.05,37.88 L164.41,36.91 L163.72,35.99 L162.96,35.11 L162.15,34.28 Z" fill="rgb(65,135,210)"/></g>
<g clip-path="url(#e2)"><path d="M134.12,17.99 L133.42,17.44 L132.67,16.94 L131.87,16.48 L131.01,16.07 L130.10,15.72 L129.15,15.41 L128.14,15.15 L127.09,14.94 L125.99,14.79 L124.85,14.68 L123.66,14.62 L122.43,14.62 L121.16,14.66 L119.86,14.76 L118.51,14.91 L117.13,15.11 L115.72,15.35 L114.27,15.65 L112.79,16.00 L111.29,16.40 L109.75,16.84 L108.20,17.34 L106.62,17.88 L105.02,18.46 L103.40,19.10 L101.76,19.78 L100.10,20.50 L98.44,21.27 L96.76,22.08 L95.07,22.93 L93.38,23.82 L91.68,24.76 L89.98,25.73 L88.28,26.74 L86.58,27.78 L84.88,28.86 L83.19,29.97 L81.50,31.12 L79.83,32.29 L78.17,33.50 L76.52,34.73 L74.88,35.99 L73.26,37.27 L71.67,38.58 L70.09,39.91 L68.54,41.26 L67.01,42.63 L65.51,44.01 L64.04,45.41 L62.60,46.82 L61.19,48.24 L59.82,49.68 L58.48,51.12 L57.18,52.57 L55.92,54.02 L54.70,55.48 L53.52,56.93 L52.39,58.39 L51.30,59.84 L50.25,61.29 L49.26,62.74 L48.31,64.17 L47.42,65.60 L46.57,67.01 L45.78,68.41 L45.03,69.80 L44.35,71.17 L43.72,72.52 L43.14,73.86 L42.62,75.17 L42.16,76.46 L41.75,77.72 L41.40,78.96 L41.11,80.17 L40.88,81.35 L40.71,82.50 L40.60,83.62 L40.54,84.71 L40.55,85.76 L40.61,86.77 L40.74,87.75 L40.92,88.69 L41.16,89.59 L41.47,90.45 L41.83,91.27 L42.24,92.05 L42.72,92.78 L43.25,93.47 L43.84,94.11 L44.48,94.71 L45.18,95.26 L45.93,95.76 L46.73,96.22 L47.59,96.63 L48.50,96.98 L49.45,97.29 L50.46,97.55 L51.51,97.76 L52.61,97.91 L53.75,98.02 L54.94,98.08 L56.17,98.08 L57.44,98.04 L58.74,97.94 L60.09,97.79 L61.47,97.59 L62.88,97.35 L64.33,97.05 L65.81,96.70 L67.31,96.30 L68.85,95.86 L70.40,95.36 L71.98,94.82 L73.58,94.24 L75.20,93.60 L76.84,92.92 L78.50,92.20 L80.16,91.43 L81.84,90.62 L83.53,89.77 L85.22,88.88 L86.92,87.94 L88.62,86.97 L90.32,85.96 L92.02,84.92 L93.72,83.84 L95.41,82.73 L97.10,81.58 L98.77,80.41 L100.43,79.20 L102.08,77.97 L103.72,76.71 L105.34,75.43 L106.93,74.12 L108.51,72.79 L110.06,71.44 L111.59,70.07 L113.09,68.69 L114.56,67.29 L116.00,65.88 L117.41,64.46 L118.78,63.02 L120.12,61.58 L121.42,60.13 L122.68,58.68 L123.90,57.22 L125.08,55.77 L126.21,54.31 L127.30,52.86 L128.35,51.41 L129.34,49.96 L130.29,48.53 L131.18,47.10 L132.03,45.69 L132.82,44.29 L133.57,42.90 L134.25,41.53 L134.88,40.18 L135.46,38.84 L135.98,37.53 L136.44,36.24 L136.85,34.98 L137.20,33.74 L137.49,32.53 L137.72,31.35 L137.89,30.20 L138.00,29.08 L138.06,27.99 L138.05,26.94 L137.99,25.93 L137.86,24.95 L137.68,24.01 L137.44,23.11 L137.13,22.25 L136.77,21.43 L136.36,20.65 L135.88,19.92 L135.35,19.23 L134.76,18.59 Z" fill="rgb(238,138,122)"/></g>
<g clip-path="url(#e2)"><path d="M161.28,33.49 L160.36,32.75 L159.39,32.05 L158.36,31.41 L157.28,30.81 L156.16,30.27 L154.98,29.77 L153.76,29.33 L152.49,28.93 L151.18,28.59 L149.82,28.31 L148.43,28.07 L146.99,27.89 L145.52,27.76 L144.01,27.69 L142.47,27.67 L140.90,27.70 L139.30,27.79 L137.67,27.93 L136.02,28.13 L134.34,28.37 L132.64,28.68 L130.91,29.03 L129.18,29.43 L127.42,29.89 L125.66,30.40 L123.88,30.96 L122.09,31.57 L120.30,32.23 L118.50,32.93 L116.69,33.69 L114.89,34.49 L113.09,35.33 L111.30,36.22 L109.51,37.16 L107.73,38.13 L105.96,39.15 L104.20,40.21 L102.46,41.30 L100.73,42.43 L99.03,43.60 L97.34,44.80 L95.68,46.04 L94.04,47.31 L92.43,48.60 L90.85,49.93 L89.31,51.28 L87.79,52.66 L86.31,54.06 L84.87,55.48 L83.46,56.92 L82.09,58.38 L80.77,59.86 L79.49,61.35 L78.26,62.86 L77.07,64.37 L75.93,65.90 L74.84,67.43 L73.80,68.96 L72.81,70.50 L71.87,72.05 L70.99,73.59 L70.17,75.13 L69.40,76.66 L68.69,78.19 L68.04,79.72 L67.44,81.23 L66.91,82.73 L66.43,84.22 L66.02,85.69 L65.67,87.15 L65.38,88.58 L65.15,90.00 L64.99,91.39 L64.88,92.77 L64.84,94.11 L64.87,95.43 L64.95,96.72 L65.10,97.98 L65.31,99.21 L65.59,100.40 L65.92,101.56 L66.32,102.68 L66.78,103.77 L67.30,104.81 L67.88,105.82 L68.52,106.79 L69.21,107.71 L69.97,108.59 L70.78,109.42 L71.65,110.21 L72.57,110.95 L73.54,111.65 L74.57,112.29 L75.65,112.89 L76.77,113.43 L77.95,113.93 L79.17,114.37 L80.44,114.77 L81.75,115.11 L83.11,115.39 L84.50,115.63 L85.94,115.81 L87.41,115.94 L88.92,116.01 L90.46,116.03 L92.03,116.00 L93.63,115.91 L95.26,115.77 L96.91,115.57 L98.59,115.33 L100.29,115.02 L102.02,114.67 L103.75,114.27 L105.51,113.81 L107.27,113.30 L109.05,112.74 L110.84,112.13 L112.63,111.47 L114.43,110.77 L116.24,110.01 L118.04,109.21 L119.84,108.37 L121.63,107.48 L123.42,106.54 L125.20,105.57 L126.97,104.55 L128.73,103.49 L130.47,102.40 L132.20,101.27 L133.90,100.10 L135.59,98.90 L137.25,97.66 L138.89,96.39 L140.50,95.10 L142.08,93.77 L143.62,92.42 L145.14,91.04 L146.62,89.64 L148.06,88.22 L149.47,86.78 L150.84,85.32 L152.16,83.84 L153.44,82.35 L154.67,80.84 L155.86,79.33 L157.00,77.80 L158.09,76.27 L159.13,74.74 L160.12,73.20 L161.06,71.65 L161.94,70.11 L162.76,68.57 L163.53,67.04 L164.24,65.51 L164.89,63.98 L165.49,62.47 L166.02,60.97 L166.50,59.48 L166.91,58.01 L167.26,56.55 L167.55,55.12 L167.78,53.70 L167.94,52.31 L168.05,50.93 L168.09,49.59 L168.06,48.27 L167.98,46.98 L167.83,45.72 L167.62,44.49 L167.34,43.30 L167.01,42.14 L166.61,41.02 L166.15,39.93 L165.63,38.89 L165.05,37.88 L164.41,36.91 L163.72,35.99 L162.96,35.11 L162.15,34.28 Z" fill="rgb(212,160,120)"/></g>
<g clip-path="url(#e3)"><path d="M161.28,33.49 L160.36,32.75 L159.39,32.05 L158.36,31.41 L157.28,30.81 L156.16,30.27 L154.98,29.77 L153.76,29.33 L152.49,28.93 L151.18,28.59 L149.82,28.31 L148.43,28.07 L146.99,27.89 L145.52,27.76 L144.01,27.69 L142.47,27.67 L140.90,27.70 L139.30,27.79 L137.67,27.93 L136.02,28.13 L134.34,28.37 L132.64,28.68 L130.91,29.03 L129.18,29.43 L127.42,29.89 L125.66,30.40 L123.88,30.96 L122.09,31.57 L120.30,32.23 L118.50,32.93 L116.69,33.69 L114.89,34.49 L113.09,35.33 L111.30,36.22 L109.51,37.16 L107.73,38.13 L105.96,39.15 L104.20,40.21 L102.46,41.30 L100.73,42.43 L99.03,43.60 L97.34,44.80 L95.68,46.04 L94.04,47.31 L92.43,48.60 L90.85,49.93 L89.31,51.28 L87.79,52.66 L86.31,54.06 L84.87,55.48 L83.46,56.92 L82.09,58.38 L80.77,59.86 L79.49,61.35 L78.26,62.86 L77.07,64.37 L75.93,65.90 L74.84,67.43 L73.80,68.96 L72.81,70.50 L71.87,72.05 L70.99,73.59 L70.17,75.13 L69.40,76.66 L68.69,78.19 L68.04,79.72 L67.44,81.23 L66.91,82.73 L66.43,84.22 L66.02,85.69 L65.67,87.15 L65.38,88.58 L65.15,90.00 L64.99,91.39 L64.88,92.77 L64.84,94.11 L64.87,95.43 L64.95,96.72 L65.10,97.98 L65.31,99.21 L65.59,100.40 L65.92,101.56 L66.32,102.68 L66.78,103.77 L67.30,104.81 L67.88,105.82 L68.52,106.79 L69.21,107.71 L69.97,108.59 L70.78,109.42 L71.65,110.21 L72.57,110.95 L73.54,111.65 L74.57,112.29 L75.65,112.89 L76.77,113.43 L77.95,113.93 L79.17,114.37 L80.44,114.77 L81.75,115.11 L83.11,115.39 L84.50,115.63 L85.94,115.81 L87.41,115.94 L88.92,116.01 L90.46,116.03 L92.03,116.00 L93.63,115.91 L95.26,115.77 L96.91,115.57 L98.59,115.33 L100.29,115.02 L102.02,114.67 L103.75,114.27 L105.51,113.81 L107.27,113.30 L109.05,112.74 L110.84,112.13 L112.63,111.47 L114.43,110.77 L116.24,110.01 L118.04,109.21 L119.84,108.37 L121.63,107.48 L123.42,106.54 L125.20,105.57 L126.97,104.55 L128.73,103.49 L130.47,102.40 L132.20,101.27 L133.90,100.10 L135.59,98.90 L137.25,97.66 L138.89,96.39 L140.50,95.10 L142.08,93.77 L143.62,92.42 L145.14,91.04 L146.62,89.64 L148.06,88.22 L149.47,86.78 L150.84,85.32 L152.16,83.84 L153.44,82.35 L154.67,80.84 L155.86,79.33 L157.00,77.80 L158.09,76.27 L159.13,74.74 L160.12,73.20 L161.06,71.65 L161.94,70.11 L162.76,68.57 L163.53,67.04 L164.24,65.51 L164.89,63.98 L165.49,62.47 L166.02,60.97 L166.50,59.48 L166.91,58.01 L167.26,56.55 L167.55,55.12 L167.78,53.70 L167.94,52.31 L168.05,50.93 L168.09,49.59 L168.06,48.27 L167.98,46.98 L167.83,45.72 L167.62,44.49 L167.34,43.30 L167.01,42.14 L166.61,41.02 L166.15,39.93 L165.63,38.89 L165.05,37.88 L164.41,36.91 L163.72,35.99 L162.96,35.11 L162.15,34.28 Z" fill="rgb(165,178,130)"/></g>
<g clip-path="url(#e1)"><g clip-path="url(#e2)"><path d="M134.12,17.99 L133.42,17.44 L132.67,16.94 L131.87,16.48 L131.01,16.07 L130.10,15.72 L129.15,15.41 L128.14,15.15 L127.09,14.94 L125.99,14.79 L124.85,14.68 L123.66,14.62 L122.43,14.62 L121.16,14.66 L119.86,14.76 L118.51,14.91 L117.13,15.11 L115.72,15.35 L114.27,15.65 L112.79,16.00 L111.29,16.40 L109.75,16.84 L108.20,17.34 L106.62,17.88 L105.02,18.46 L103.40,19.10 L101.76,19.78 L100.10,20.50 L98.44,21.27 L96.76,22.08 L95.07,22.93 L93.38,23.82 L91.68,24.76 L89.98,25.73 L88.28,26.74 L86.58,27.78 L84.88,28.86 L83.19,29.97 L81.50,31.12 L79.83,32.29 L78.17,33.50 L76.52,34.73 L74.88,35.99 L73.26,37.27 L71.67,38.58 L70.09,39.91 L68.54,41.26 L67.01,42.63 L65.51,44.01 L64.04,45.41 L62.60,46.82 L61.19,48.24 L59.82,49.68 L58.48,51.12 L57.18,52.57 L55.92,54.02 L54.70,55.48 L53.52,56.93 L52.39,58.39 L51.30,59.84 L50.25,61.29 L49.26,62.74 L48.31,64.17 L47.42,65.60 L46.57,67.01 L45.78,68.41 L45.03,69.80 L44.35,71.17 L43.72,72.52 L43.14,73.86 L42.62,75.17 L42.16,76.46 L41.75,77.72 L41.40,78.96 L41.11,80.17 L40.88,81.35 L40.71,82.50 L40.60,83.62 L40.54,84.71 L40.55,85.76 L40.61,86.77 L40.74,87.75 L40.92,88.69 L41.16,89.59 L41.47,90.45 L41.83,91.27 L42.24,92.05 L42.72,92.78 L43.25,93.47 L43.84,94.11 L44.48,94.71 L45.18,95.26 L45.93,95.76 L46.73,96.22 L47.59,96.63 L48.50,96.98 L49.45,97.29 L50.46,97.55 L51.51,97.76 L52.61,97.91 L53.75,98.02 L54.94,98.08 L56.17,98.08 L57.44,98.04 L58.74,97.94 L60.09,97.79 L61.47,97.59 L62.88,97.35 L64.33,97.05 L65.81,96.70 L67.31,96.30 L68.85,95.86 L70.40,95.36 L71.98,94.82 L73.58,94.24 L75.20,93.60 L76.84,92.92 L78.50,92.20 L80.16,91.43 L81.84,90.62 L83.53,89.77 L85.22,88.88 L86.92,87.94 L88.62,86.97 L90.32,85.96 L92.02,84.92 L93.72,83.84 L95.41,82.73 L97.10,81.58 L98.77,80.41 L100.43,79.20 L102.08,77.97 L103.72,76.71 L105.34,75.43 L106.93,74.12 L108.51,72.79 L110.06,71.44 L111.59,70.07 L113.09,68.69 L114.56,67.29 L116.00,65.88 L117.41,64.46 L118.78,63.02 L120.12,61.58 L121.42,60.13 L122.68,58.68 L123.90,57.22 L125.08,55.77 L126.21,54.31 L127.30,52.86 L128.35,51.41 L129.34,49.96 L130.29,48.53 L131.18,47.10 L132.03,45.69 L132.82,44.29 L133.57,42.90 L134.25,41.53 L134.88,40.18 L135.46,38.84 L135.98,37.53 L136.44,36.24 L136.85,34.98 L137.20,33.74 L137.49,32.53 L137.72,31.35 L137.89,30.20 L138.00,29.08 L138.06,27.99 L138.05,26.94 L137.99,25.93 L137.86,24.95 L137.68,24.01 L137.44,23.11 L137.13,22.25 L136.77,21.43 L136.36,20.65 L135.88,19.92 L135.35,19.23 L134.76,18.59 Z" fill="rgb(235,135,125)"/></g></g>
<g clip-path="url(#e1)"><g clip-path="url(#e2)"><path d="M161.28,33.49 L160.36,32.75 L159.39,32.05 L158.36,31.41 L157.28,30.81 L156.16,30.27 L154.98,29.77 L153.76,29.33 L152.49,28.93 L151.18,28.59 L149.82,28.31 L148.43,28.07 L146.99,27.89 L145.52,27.76 L144.01,27.69 L142.47,27.67 L140.90,27.70 L139.30,27.79 L137.67,27.93 L136.02,28.13 L134.34,28.37 L132.64,28.68 L130.91,29.03 L129.18,29.43 L127.42,29.89 L125.66,30.40 L123.88,30.96 L122.09,31.57 L120.30,32.23 L118.50,32.93 L116.69,33.69 L114.89,34.49 L113.09,35.33 L111.30,36.22 L109.51,37.16 L107.73,38.13 L105.96,39.15 L104.20,40.21 L102.46,41.30 L100.73,42.43 L99.03,43.60 L97.34,44.80 L95.68,46.04 L94.04,47.31 L92.43,48.60 L90.85,49.93 L89.31,51.28 L87.79,52.66 L86.31,54.06 L84.87,55.48 L83.46,56.92 L82.09,58.38 L80.77,59.86 L79.49,61.35 L78.26,62.86 L77.07,64.37 L75.93,65.90 L74.84,67.43 L73.80,68.96 L72.81,70.50 L71.87,72.05 L70.99,73.59 L70.17,75.13 L69.40,76.66 L68.69,78.19 L68.04,79.72 L67.44,81.23 L66.91,82.73 L66.43,84.22 L66.02,85.69 L65.67,87.15 L65.38,88.58 L65.15,90.00 L64.99,91.39 L64.88,92.77 L64.84,94.11 L64.87,95.43 L64.95,96.72 L65.10,97.98 L65.31,99.21 L65.59,100.40 L65.92,101.56 L66.32,102.68 L66.78,103.77 L67.30,104.81 L67.88,105.82 L68.52,106.79 L69.21,107.71 L69.97,108.59 L70.78,109.42 L71.65,110.21 L72.57,110.95 L73.54,111.65 L74.57,112.29 L75.65,112.89 L76.77,113.43 L77.95,113.93 L79.17,114.37 L80.44,114.77 L81.75,115.11 L83.11,115.39 L84.50,115.63 L85.94,115.81 L87.41,115.94 L88.92,116.01 L90.46,116.03 L92.03,116.00 L93.63,115.91 L95.26,115.77 L96.91,115.57 L98.59,115.33 L100.29,115.02 L102.02,114.67 L103.75,114.27 L105.51,113.81 L107.27,113.30 L109.05,112.74 L110.84,112.13 L112.63,111.47 L114.43,110.77 L116.24,110.01 L118.04,109.21 L119.84,108.37 L121.63,107.48 L123.42,106.54 L125.20,105.57 L126.97,104.55 L128.73,103.49 L130.47,102.40 L132.20,101.27 L133.90,100.10 L135.59,98.90 L137.25,97.66 L138.89,96.39 L140.50,95.10 L142.08,93.77 L143.62,92.42 L145.14,91.04 L146.62,89.64 L148.06,88.22 L149.47,86.78 L150.84,85.32 L152.16,83.84 L153.44,82.35 L154.67,80.84 L155.86,79.33 L157.00,77.80 L158.09,76.27 L159.13,74.74 L160.12,73.20 L161.06,71.65 L161.94,70.11 L162.76,68.57 L163.53,67.04 L164.24,65.51 L164.89,63.98 L165.49,62.47 L166.02,60.97 L166.50,59.48 L166.91,58.01 L167.26,56.55 L167.55,55.12 L167.78,53.70 L167.94,52.31 L168.05,50.93 L168.09,49.59 L168.06,48.27 L167.98,46.98 L167.83,45.72 L167.62,44.49 L167.34,43.30 L167.01,42.14 L166.61,41.02 L166.15,39.93 L165.63,38.89 L165.05,37.88 L164.41,36.91 L163.72,35.99 L162.96,35.11 L162.15,34.28 Z" fill="rgb(210,125,145)"/></g></g>
<g clip-path="url(#e1)"><g clip-path="url(#e3)"><path d="M161.28,33.49 L160.36,32.75 L159.39,32.05 L158.36,31.41 L157.28,30.81 L156.16,30.27 L154.98,29.77 L153.76,29.33 L152.49,28.93 L151.18,28.59 L149.82,28.31 L148.43,28.07 L146.99,27.89 L145.52,27.76 L144.01,27.69 L142.47,27.67 L140.90,27.70 L139.30,27.79 L137.67,27.93 L136.02,28.13 L134.34,28.37 L132.64,28.68 L130.91,29.03 L129.18,29.43 L127.42,29.89 L125.66,30.40 L123.88,30.96 L122.09,31.57 L120.30,32.23 L118.50,32.93 L116.69,33.69 L114.89,34.49 L113.09,35.33 L111.30,36.22 L109.51,37.16 L107.73,38.13 L105.96,39.15 L104.20,40.21 L102.46,41.30 L100.73,42.43 L99.03,43.60 L97.34,44.80 L95.68,46.04 L94.04,47.31 L92.43,48.60 L90.85,49.93 L89.31,51.28 L87.79,52.66 L86.31,54.06 L84.87,55.48 L83.46,56.92 L82.09,58.38 L80.77,59.86 L79.49,61.35 L78.26,62.86 L77.07,64.37 L75.93,65.90 L74.84,67.43 L73.80,68.96 L72.81,70.50 L71.87,72.05 L70.99,73.59 L70.17,75.13 L69.40,76.66 L68.69,78.19 L68.04,79.72 L67.44,81.23 L66.91,82.73 L66.43,84.22 L66.02,85.69 L65.67,87.15 L65.38,88.58 L65.15,90.00 L64.99,91.39 L64.88,92.77 L64.84,94.11 L64.87,95.43 L64.95,96.72 L65.10,97.98 L65.31,99.21 L65.59,100.40 L65.92,101.56 L66.32,102.68 L66.78,103.77 L67.30,104.81 L67.88,105.82 L68.52,106.79 L69.21,107.71 L69.97,108.59 L70.78,109.42 L71.65,110.21 L72.57,110.95 L73.54,111.65 L74.57,112.29 L75.65,112.89 L76.77,113.43 L77.95,113.93 L79.17,114.37 L80.44,114.77 L81.75,115.11 L83.11,115.39 L84.50,115.63 L85.94,115.81 L87.41,115.94 L88.92,116.01 L90.46,116.03 L92.03,116.00 L93.63,115.91 L95.26,115.77 L96.91,115.57 L98.59,115.33 L100.29,115.02 L102.02,114.67 L103.75,114.27 L105.51,113.81 L107.27,113.30 L109.05,112.74 L110.84,112.13 L112.63,111.47 L114.43,110.77 L116.24,110.01 L118.04,109.21 L119.84,108.37 L121.63,107.48 L123.42,106.54 L125.20,105.57 L126.97,104.55 L128.73,103.49 L130.47,102.40 L132.20,101.27 L133.90,100.10 L135.59,98.90 L137.25,97.66 L138.89,96.39 L140.50,95.10 L142.08,93.77 L143.62,92.42 L145.14,91.04 L146.62,89.64 L148.06,88.22 L149.47,86.78 L150.84,85.32 L152.16,83.84 L153.44,82.35 L154.67,80.84 L155.86,79.33 L157.00,77.80 L158.09,76.27 L159.13,74.74 L160.12,73.20 L161.06,71.65 L161.94,70.11 L162.76,68.57 L163.53,67.04 L164.24,65.51 L164.89,63.98 L165.49,62.47 L166.02,60.97 L166.50,59.48 L166.91,58.01 L167.26,56.55 L167.55,55.12 L167.78,53.70 L167.94,52.31 L168.05,50.93 L168.09,49.59 L168.06,48.27 L167.98,46.98 L167.83,45.72 L167.62,44.49 L167.34,43.30 L167.01,42.14 L166.61,41.02 L166.15,39.93 L165.63,38.89 L165.05,37.88 L164.41,36.91 L163.72,35.99 L162.96,35.11 L162.15,34.28 Z" fill="rgb(180,178,165)"/></g></g>
<g clip-path="url(#e2)"><g clip-path="url(#e3)"><path d="M161.28,33.49 L160.36,32.75 L159.39,32.05 L158.36,31.41 L157.28,30.81 L156.16,30.27 L154.98,29.77 L153.76,29.33 L152.49,28.93 L151.18,28.59 L149.82,28.31 L148.43,28.07 L146.99,27.89 L145.52,27.76 L144.01,27.69 L142.47,27.67 L140.90,27.70 L139.30,27.79 L137.67,27.93 L136.02,28.13 L134.34,28.37 L132.64,28.68 L130.91,29.03 L129.18,29.43 L127.42,29.89 L125.66,30.40 L123.88,30.96 L122.09,31.57 L120.30,32.23 L118.50,32.93 L116.69,33.69 L114.89,34.49 L113.09,35.33 L111.30,36.22 L109.51,37.16 L107.73,38.13 L105.96,39.15 L104.20,40.21 L102.46,41.30 L100.73,42.43 L99.03,43.60 L97.34,44.80 L95.68,46.04 L94.04,47.31 L92.43,48.60 L90.85,49.93 L89.31,51.28 L87.79,52.66 L86.31,54.06 L84.87,55.48 L83.46,56.92 L82.09,58.38 L80.77,59.86 L79.49,61.35 L78.26,62.86 L77.07,64.37 L75.93,65.90 L74.84,67.43 L73.80,68.96 L72.81,70.50 L71.87,72.05 L70.99,73.59 L70.17,75.13 L69.40,76.66 L68.69,78.19 L68.04,79.72 L67.44,81.23 L66.91,82.73 L66.43,84.22 L66.02,85.69 L65.67,87.15 L65.38,88.58 L65.15,90.00 L64.99,91.39 L64.88,92.77 L64.84,94.11 L64.87,95.43 L64.95,96.72 L65.10,97.98 L65.31,99.21 L65.59,100.40 L65.92,101.56 L66.32,102.68 L66.78,103.77 L67.30,104.81 L67.88,105.82 L68.52,106.79 L69.21,107.71 L69.97,108.59 L70.78,109.42 L71.65,110.21 L72.57,110.95 L73.54,111.65 L74.57,112.29 L75.65,112.89 L76.77,113.43 L77.95,113.93 L79.17,114.37 L80.44,114.77 L81.75,115.11 L83.11,115.39 L84.50,115.63 L85.94,115.81 L87.41,115.94 L88.92,116.01 L90.46,116.03 L92.03,116.00 L93.63,115.91 L95.26,115.77 L96.91,115.57 L98.59,115.33 L100.29,115.02 L102.02,114.67 L103.75,114.27 L105.51,113.81 L107.27,113.30 L109.05,112.74 L110.84,112.13 L112.63,111.47 L114.43,110.77 L116.24,110.01 L118.04,109.21 L119.84,108.37 L121.63,107.48 L123.42,106.54 L125.20,105.57 L126.97,104.55 L128.73,103.49 L130.47,102.40 L132.20,101.27 L133.90,100.10 L135.59,98.90 L137.25,97.66 L138.89,96.39 L140.50,95.10 L142.08,93.77 L143.62,92.42 L145.14,91.04 L146.62,89.64 L148.06,88.22 L149.47,86.78 L150.84,85.32 L152.16,83.84 L153.44,82.35 L154.67,80.84 L155.86,79.33 L157.00,77.80 L158.09,76.27 L159.13,74.74 L160.12,73.20 L161.06,71.65 L161.94,70.11 L162.76,68.57 L163.53,67.04 L164.24,65.51 L164.89,63.98 L165.49,62.47 L166.02,60.97 L166.50,59.48 L166.91,58.01 L167.26,56.55 L167.55,55.12 L167.78,53.70 L167.94,52.31 L168.05,50.93 L168.09,49.59 L168.06,48.27 L167.98,46.98 L167.83,45.72 L167.62,44.49 L167.34,43.30 L167.01,42.14 L166.61,41.02 L166.15,39.93 L165.63,38.89 L165.05,37.88 L164.41,36.91 L163.72,35.99 L162.96,35.11 L162.15,34.28 Z" fill="rgb(232,140,120)"/></g></g>
<g clip-path="url(#e1)"><g clip-path="url(#e2)"><g clip-path="url(#e3)"><path d="M161.28,33.49 L160.36,32.75 L159.39,32.05 L158.36,31.41 L157.28,30.81 L156.16,30.27 L154.98,29.77 L153.76,29.33 L152.49,28.93 L151.18,28.59 L149.82,28.31 L148.43,28.07 L146.99,27.89 L145.52,27.76 L144.01,27.69 L142.47,27.67 L140.90,27.70 L139.30,27.79 L137.67,27.93 L136.02,28.13 L134.34,28.37 L132.64,28.68 L130.91,29.03 L129.18,29.43 L127.42,29.89 L125.66,30.40 L123.88,30.96 L122.09,31.57 L120.30,32.23 L118.50,32.93 L116.69,33.69 L114.89,34.49 L113.09,35.33 L111.30,36.22 L109.51,37.16 L107.73,38.13 L105.96,39.15 L104.20,40.21 L102.46,41.30 L100.73,42.43 L99.03,43.60 L97.34,44.80 L95.68,46.04 L94.04,47.31 L92.43,48.60 L90.85,49.93 L89.31,51.28 L87.79,52.66 L86.31,54.06 L84.87,55.48 L83.46,56.92 L82.09,58.38 L80.77,59.86 L79.49,61.35 L78.26,62.86 L77.07,64.37 L75.93,65.90 L74.84,67.43 L73.80,68.96 L72.81,70.50 L71.87,72.05 L70.99,73.59 L70.17,75.13 L69.40,76.66 L68.69,78.19 L68.04,79.72 L67.44,81.23 L66.91,82.73 L66.43,84.22 L66.02,85.69 L65.67,87.15 L65.38,88.58 L65.15,90.00 L64.99,91.39 L64.88,92.77 L64.84,94.11 L64.87,95.43 L64.95,96.72 L65.10,97.98 L65.31,99.21 L65.59,100.40 L65.92,101.56 L66.32,102.68 L66.78,103.77 L67.30,104.81 L67.88,105.82 L68.52,106.79 L69.21,107.71 L69.97,108.59 L70.78,109.42 L71.65,110.21 L72.57,110.95 L73.54,111.65 L74.57,112.29 L75.65,112.89 L76.77,113.43 L77.95,113.93 L79.17,114.37 L80.44,114.77 L81.75,115.11 L83.11,115.39 L84.50,115.63 L85.94,115.81 L87.41,115.94 L88.92,116.01 L90.46,116.03 L92.03,116.00 L93.63,115.91 L95.26,115.77 L96.91,115.57 L98.59,115.33 L100.29,115.02 L102.02,114.67 L103.75,114.27 L105.51,113.81 L107.27,113.30 L109.05,112.74 L110.84,112.13 L112.63,111.47 L114.43,110.77 L116.24,110.01 L118.04,109.21 L119.84,108.37 L121.63,107.48 L123.42,106.54 L125.20,105.57 L126.97,104.55 L128.73,103.49 L130.47,102.40 L132.20,101.27 L133.90,100.10 L135.59,98.90 L137.25,97.66 L138.89,96.39 L140.50,95.10 L142.08,93.77 L143.62,92.42 L145.14,91.04 L146.62,89.64 L148.06,88.22 L149.47,86.78 L150.84,85.32 L152.16,83.84 L153.44,82.35 L154.67,80.84 L155.86,79.33 L157.00,77.80 L158.09,76.27 L159.13,74.74 L160.12,73.20 L161.06,71.65 L161.94,70.11 L162.76,68.57 L163.53,67.04 L164.24,65.51 L164.89,63.98 L165.49,62.47 L166.02,60.97 L166.50,59.48 L166.91,58.01 L167.26,56.55 L167.55,55.12 L167.78,53.70 L167.94,52.31 L168.05,50.93 L168.09,49.59 L168.06,48.27 L167.98,46.98 L167.83,45.72 L167.62,44.49 L167.34,43.30 L167.01,42.14 L166.61,41.02 L166.15,39.93 L165.63,38.89 L165.05,37.88 L164.41,36.91 L163.72,35.99 L162.96,35.11 L162.15,34.28 Z" fill="rgb(235,138,120)"/></g></g></g>
<path d="M17.32,33.49 L16.45,34.28 L15.64,35.11 L14.88,35.99 L14.19,36.91 L13.55,37.88 L12.97,38.89 L12.45,39.93 L11.99,41.02 L11.59,42.14 L11.26,43.30 L10.98,44.49 L10.77,45.72 L10.62,46.98 L10.54,48.27 L10.51,49.59 L10.55,50.93 L10.66,52.31 L10.82,53.70 L11.05,55.12 L11.34,56.55 L11.69,58.01 L12.10,59.48 L12.58,60.97 L13.11,62.47 L13.71,63.98 L14.36,65.51 L15.07,67.04 L15.84,68.57 L16.66,70.11 L17.54,71.65 L18.48,73.20 L19.47,74.74 L20.51,76.27 L21.60,77.80 L22.74,79.33 L23.93,80.84 L25.16,82.35 L26.44,83.84 L27.76,85.32 L29.13,86.78 L30.54,88.22 L31.98,89.64 L33.46,91.04 L34.98,92.42 L36.52,93.77 L38.10,95.10 L39.71,96.39 L41.35,97.66 L43.01,98.90 L44.70,100.10 L46.40,101.27 L48.13,102.40 L49.87,103.49 L51.63,104.55 L53.40,105.57 L55.18,106.54 L56.97,107.48 L58.76,108.37 L60.56,109.21 L62.36,110.01 L64.17,110.77 L65.97,111.47 L67.76,112.13 L69.55,112.74 L71.33,113.30 L73.09,113.81 L74.85,114.27 L76.58,114.67 L78.31,115.02 L80.01,115.33 L81.69,115.57 L83.34,115.77 L84.97,115.91 L86.57,116.00 L88.14,116.03 L89.68,116.01 L91.19,115.94 L92.66,115.81 L94.10,115.63 L95.49,115.39 L96.85,115.11 L98.16,114.77 L99.43,114.37 L100.65,113.93 L101.83,113.43 L102.95,112.89 L104.03,112.29 L105.06,111.65 L106.03,110.95 L106.95,110.21 L107.82,109.42 L108.63,108.59 L109.39,107.71 L110.08,106.79 L110.72,105.82 L111.30,104.81 L111.82,103.77 L112.28,102.68 L112.68,101.56 L113.01,100.40 L113.29,99.21 L113.50,97.98 L113.65,96.72 L113.73,95.43 L113.76,94.11 L113.72,92.77 L113.61,91.39 L113.45,90.00 L113.22,88.58 L112.93,87.15 L112.58,85.69 L112.17,84.22 L111.69,82.73 L111.16,81.23 L110.56,79.72 L109.91,78.19 L109.20,76.66 L108.43,75.13 L107.61,73.59 L106.73,72.05 L105.79,70.50 L104.80,68.96 L103.76,67.43 L102.67,65.90 L101.53,64.37 L100.34,62.86 L99.11,61.35 L97.83,59.86 L96.51,58.38 L95.14,56.92 L93.73,55.48 L92.29,54.06 L90.81,52.66 L89.29,51.28 L87.75,49.93 L86.17,48.60 L84.56,47.31 L82.92,46.04 L81.26,44.80 L79.57,43.60 L77.87,42.43 L76.14,41.30 L74.40,40.21 L72.64,39.15 L70.87,38.13 L69.09,37.16 L67.30,36.22 L65.51,35.33 L63.71,34.49 L61.91,33.69 L60.10,32.93 L58.30,32.23 L56.51,31.57 L54.72,30.96 L52.94,30.40 L51.18,29.89 L49.42,29.43 L47.69,29.03 L45.96,28.68 L44.26,28.37 L42.58,28.13 L40.93,27.93 L39.30,27.79 L37.70,27.70 L36.13,27.67 L34.59,27.69 L33.08,27.76 L31.61,27.89 L30.17,28.07 L28.78,28.31 L27.42,28.59 L26.11,28.93 L24.84,29.33 L23.62,29.77 L22.44,30.27 L21.32,30.81 L20.24,31.41 L19.21,32.05 L18.24,32.75 Z" fill="none" stroke="rgb(130,130,225)" stroke-width="0.7"/>
<path d="M44.48,17.99 L43.84,18.59 L43.25,19.23 L42.72,19.92 L42.24,20.65 L41.83,21.43 L41.47,22.25 L41.16,23.11 L40.92,24.01 L40.74,24.95 L40.61,25.93 L40.55,26.94 L40.54,27.99 L40.60,29.08 L40.71,30.20 L40.88,31.35 L41.11,32.53 L41.40,33.74 L41.75,34.98 L42.16,36.24 L42.62,37.53 L43.14,38.84 L43.72,40.18 L44.35,41.53 L45.03,42.90 L45.78,44.29 L46.57,45.69 L47.42,47.10 L48.31,48.53 L49.26,49.96 L50.25,51.41 L51.30,52.86 L52.39,54.31 L53.52,55.77 L54.70,57.22 L55.92,58.68 L57.18,60.13 L58.48,61.58 L59.82,63.02 L61.19,64.46 L62.60,65.88 L64.04,67.29 L65.51,68.69 L67.01,70.07 L68.54,71.44 L70.09,72.79 L71.67,74.12 L73.26,75.43 L74.88,76.71 L76.52,77.97 L78.17,79.20 L79.83,80.41 L81.50,81.58 L83.19,82.73 L84.88,83.84 L86.58,84.92 L88.28,85.96 L89.98,86.97 L91.68,87.94 L93.38,88.88 L95.07,89.77 L96.76,90.62 L98.44,91.43 L100.10,92.20 L101.76,92.92 L103.40,93.60 L105.02,94.24 L106.62,94.82 L108.20,95.36 L109.75,95.86 L111.29,96.30 L112.79,96.70 L114.27,97.05 L115.72,97.35 L117.13,97.59 L118.51,97.79 L119.86,97.94 L121.16,98.04 L122.43,98.08 L123.66,98.08 L124.85,98.02 L125.99,97.91 L127.09,97.76 L128.14,97.55 L129.15,97.29 L130.10,96.98 L131.01,96.63 L131.87,96.22 L132.67,95.76 L133.42,95.26 L134.12,94.71 L134.76,94.11 L135.35,93.47 L135.88,92.78 L136.36,92.05 L136.77,91.27 L137.13,90.45 L137.44,89.59 L137.68,88.69 L137.86,87.75 L137.99,86.77 L138.05,85.76 L138.06,84.71 L138.00,83.62 L137.89,82.50 L137.72,81.35 L137.49,80.17 L137.20,78.96 L136.85,77.72 L136.44,76.46 L135.98,75.17 L135.46,73.86 L134.88,72.52 L134.25,71.17 L133.57,69.80 L132.82,68.41 L132.03,67.01 L131.18,65.60 L130.29,64.17 L129.34,62.74 L128.35,61.29 L127.30,59.84 L126.21,58.39 L125.08,56.93 L123.90,55.48 L122.68,54.02 L121.42,52.57 L120.12,51.12 L118.78,49.68 L117.41,48.24 L116.00,46.82 L114.56,45.41 L113.09,44.01 L111.59,42.63 L110.06,41.26 L108.51,39.91 L106.93,38.58 L105.34,37.27 L103.72,35.99 L102.08,34.73 L100.43,33.50 L98.77,32.29 L97.10,31.12 L95.41,29.97 L93.72,28.86 L92.02,27.78 L90.32,26.74 L88.62,25.73 L86.92,24.76 L85.22,23.82 L83.53,22.93 L81.84,22.08 L80.16,21.27 L78.50,20.50 L76.84,19.78 L75.20,19.10 L73.58,18.46 L71.98,17.88 L70.40,17.34 L68.85,16.84 L67.31,16.40 L65.81,16.00 L64.33,15.65 L62.88,15.35 L61.47,15.11 L60.09,14.91 L58.74,14.76 L57.44,14.66 L56.17,14.62 L54.94,14.62 L53.75,14.68 L52.61,14.79 L51.51,14.94 L50.46,15.15 L49.45,15.41 L48.50,15.72 L47.59,16.07 L46.73,16.48 L45.93,16.94 L45.18,17.44 Z" fill="none" stroke="rgb(235,140,135)" stroke-width="0.7"/>
<path d="M134.12,17.99 L133.42,17.44 L132.67,16.94 L131.87,16.48 L131.01,16.07 L130.10,15.72 L129.15,15.41 L128.14,15.15 L127.09,14.94 L125.99,14.79 L124.85,14.68 L123.66,14.62 L122.43,14.62 L121.16,14.66 L119.86,14.76 L118.51,14.91 L117.13,15.11 L115.72,15.35 L114.27,15.65 L112.79,16.00 L111.29,16.40 L109.75,16.84 L108.20,17.34 L106.62,17.88 L105.02,18.46 L103.40,19.10 L101.76,19.78 L100.10,20.50 L98.44,21.27 L96.76,22.08 L95.07,22.93 L93.38,23.82 L91.68,24.76 L89.98,25.73 L88.28,26.74 L86.58,27.78 L84.88,28.86 L83.19,29.97 L81.50,31.12 L79.83,32.29 L78.17,33.50 L76.52,34.73 L74.88,35.99 L73.26,37.27 L71.67,38.58 L70.09,39.91 L68.54,41.26 L67.01,42.63 L65.51,44.01 L64.04,45.41 L62.60,46.82 L61.19,48.24 L59.82,49.68 L58.48,51.12 L57.18,52.57 L55.92,54.02 L54.70,55.48 L53.52,56.93 L52.39,58.39 L51.30,59.84 L50.25,61.29 L49.26,62.74 L48.31,64.17 L47.42,65.60 L46.57,67.01 L45.78,68.41 L45.03,69.80 L44.35,71.17 L43.72,72.52 L43.14,73.86 L42.62,75.17 L42.16,76.46 L41.75,77.72 L41.40,78.96 L41.11,80.17 L40.88,81.35 L40.71,82.50 L40.60,83.62 L40.54,84.71 L40.55,85.76 L40.61,86.77 L40.74,87.75 L40.92,88.69 L41.16,89.59 L41.47,90.45 L41.83,91.27 L42.24,92.05 L42.72,92.78 L43.25,93.47 L43.84,94.11 L44.48,94.71 L45.18,95.26 L45.93,95.76 L46.73,96.22 L47.59,96.63 L48.50,96.98 L49.45,97.29 L50.46,97.55 L51.51,97.76 L52.61,97.91 L53.75,98.02 L54.94,98.08 L56.17,98.08 L57.44,98.04 L58.74,97.94 L60.09,97.79 L61.47,97.59 L62.88,97.35 L64.33,97.05 L65.81,96.70 L67.31,96.30 L68.85,95.86 L70.40,95.36 L71.98,94.82 L73.58,94.24 L75.20,93.60 L76.84,92.92 L78.50,92.20 L80.16,91.43 L81.84,90.62 L83.53,89.77 L85.22,88.88 L86.92,87.94 L88.62,86.97 L90.32,85.96 L92.02,84.92 L93.72,83.84 L95.41,82.73 L97.10,81.58 L98.77,80.41 L100.43,79.20 L102.08,77.97 L103.72,76.71 L105.34,75.43 L106.93,74.12 L108.51,72.79 L110.06,71.44 L111.59,70.07 L113.09,68.69 L114.56,67.29 L116.00,65.88 L117.41,64.46 L118.78,63.02 L120.12,61.58 L121.42,60.13 L122.68,58.68 L123.90,57.22 L125.08,55.77 L126.21,54.31 L127.30,52.86 L128.35,51.41 L129.34,49.96 L130.29,48.53 L131.18,47.10 L132.03,45.69 L132.82,44.29 L133.57,42.90 L134.25,41.53 L134.88,40.18 L135.46,38.84 L135.98,37.53 L136.44,36.24 L136.85,34.98 L137.20,33.74 L137.49,32.53 L137.72,31.35 L137.89,30.20 L138.00,29.08 L138.06,27.99 L138.05,26.94 L137.99,25.93 L137.86,24.95 L137.68,24.01 L137.44,23.11 L137.13,22.25 L136.77,21.43 L136.36,20.65 L135.88,19.92 L135.35,19.23 L134.76,18.59 Z" fill="none" stroke="rgb(210,180,150)" stroke-width="0.7"/>
<path d="M161.28,33.49 L160.36,32.75 L159.39,32.05 L158.36,31.41 L157.28,30.81 L156.16,30.27 L154.98,29.77 L153.76,29.33 L152.49,28.93 L151.18,28.59 L149.82,28.31 L148.43,28.07 L146.99,27.89 L145.52,27.76 L144.01,27.69 L142.47,27.67 L140.90,27.70 L139.30,27.79 L137.67,27.93 L136.02,28.13 L134.34,28.37 L132.64,28.68 L130.91,29.03 L129.18,29.43 L127.42,29.89 L125.66,30.40 L123.88,30.96 L122.09,31.57 L120.30,32.23 L118.50,32.93 L116.69,33.69 L114.89,34.49 L113.09,35.33 L111.30,36.22 L109.51,37.16 L107.73,38.13 L105.96,39.15 L104.20,40.21 L102.46,41.30 L100.73,42.43 L99.03,43.60 L97.34,44.80 L95.68,46.04 L94.04,47.31 L92.43,48.60 L90.85,49.93 L89.31,51.28 L87.79,52.66 L86.31,54.06 L84.87,55.48 L83.46,56.92 L82.09,58.38 L80.77,59.86 L79.49,61.35 L78.26,62.86 L77.07,64.37 L75.93,65.90 L74.84,67.43 L73.80,68.96 L72.81,70.50 L71.87,72.05 L70.99,73.59 L70.17,75.13 L69.40,76.66 L68.69,78.19 L68.04,79.72 L67.44,81.23 L66.91,82.73 L66.43,84.22 L66.02,85.69 L65.67,87.15 L65.38,88.58 L65.15,90.00 L64.99,91.39 L64.88,92.77 L64.84,94.11 L64.87,95.43 L64.95,96.72 L65.10,97.98 L65.31,99.21 L65.59,100.40 L65.92,101.56 L66.32,102.68 L66.78,103.77 L67.30,104.81 L67.88,105.82 L68.52,106.79 L69.21,107.71 L69.97,108.59 L70.78,109.42 L71.65,110.21 L72.57,110.95 L73.54,111.65 L74.57,112.29 L75.65,112.89 L76.77,113.43 L77.95,113.93 L79.17,114.37 L80.44,114.77 L81.75,115.11 L83.11,115.39 L84.50,115.63 L85.94,115.81 L87.41,115.94 L88.92,116.01 L90.46,116.03 L92.03,116.00 L93.63,115.91 L95.26,115.77 L96.91,115.57 L98.59,115.33 L100.29,115.02 L102.02,114.67 L103.75,114.27 L105.51,113.81 L107.27,113.30 L109.05,112.74 L110.84,112.13 L112.63,111.47 L114.43,110.77 L116.24,110.01 L118.04,109.21 L119.84,108.37 L121.63,107.48 L123.42,106.54 L125.20,105.57 L126.97,104.55 L128.73,103.49 L130.47,102.40 L132.20,101.27 L133.90,100.10 L135.59,98.90 L137.25,97.66 L138.89,96.39 L140.50,95.10 L142.08,93.77 L143.62,92.42 L145.14,91.04 L146.62,89.64 L148.06,88.22 L149.47,86.78 L150.84,85.32 L152.16,83.84 L153.44,82.35 L154.67,80.84 L155.86,79.33 L157.00,77.80 L158.09,76.27 L159.13,74.74 L160.12,73.20 L161.06,71.65 L161.94,70.11 L162.76,68.57 L163.53,67.04 L164.24,65.51 L164.89,63.98 L165.49,62.47 L166.02,60.97 L166.50,59.48 L166.91,58.01 L167.26,56.55 L167.55,55.12 L167.78,53.70 L167.94,52.31 L168.05,50.93 L168.09,49.59 L168.06,48.27 L167.98,46.98 L167.83,45.72 L167.62,44.49 L167.34,43.30 L167.01,42.14 L166.61,41.02 L166.15,39.93 L165.63,38.89 L165.05,37.88 L164.41,36.91 L163.72,35.99 L162.96,35.11 L162.15,34.28 Z" fill="none" stroke="rgb(90,205,140)" stroke-width="0.7"/>
<text x="61.9" y="26.9" class="na">2125</text>
<text x="115.9" y="26.9" class="na">937</text>
<text x="31.3" y="55.3" class="na">176</text>
<text x="146.9" y="55.4" class="na">1589</text>
<text x="55.2" y="41.6" class="na">100</text>
<text x="89.0" y="38.3" class="na">499</text>
<text x="123.3" y="41.6" class="na">1217</text>
<text x="71.1" y="55.2" class="na">99</text>
<text x="106.9" y="55.2" class="na">1770</text>
<text x="89.0" y="72.2" class="na">806</text>
<text x="56.7" y="79.4" class="na">39</text>
<text x="121.4" y="79.6" class="na">596</text>
<text x="75.8" y="86.0" class="na">160</text>
<text x="102.3" y="86.0" class="na">43</text>
<text x="88.9" y="101.3" class="na">46</text>
<text x="20.0" y="18.7" class="la">TR1_vs_CR1</text>
<text x="62.0" y="11.0" class="la">TS1_vs_CS1</text>
<text x="116.8" y="11.0" class="la">TS2_vs_CS2</text>
<text x="158.8" y="18.7" class="la">TR2_vs_CR2</text>
<text x="89.3" y="129.4" class="pl">(A)</text>
<ellipse cx="245.65" cy="60.7" rx="55.95" ry="48.8" fill="rgb(160,172,236)"/>
<ellipse cx="302.1" cy="60.4" rx="56.5" ry="49.1" fill="rgb(125,225,175)"/>
<g clip-path="url(#bb)"><ellipse cx="302.1" cy="60.4" rx="56.5" ry="49.1" fill="rgb(85,185,165)"/></g>
<text x="218.2" y="61.5" class="nb">5250</text>
<text x="274.2" y="61.5" class="nb">433</text>
<text x="330.2" y="61.5" class="nb">388</text>
<text x="252.4" y="4.5" class="lb">TR1_vs_TS1</text>
<text x="308.3" y="4.5" class="lb">TR2_vs_TS2</text>
<text x="273.9" y="129.4" class="pl">(B)</text>
<path d="M88.30,159.10 L94.50,162.07 L87.60,165.04 L93.80,168.01 L86.20,170.98 L93.10,173.95 L89.00,176.92 L112.00,179.89 L112.00,182.86 L111.00,185.83 L101.40,188.80 L107.00,191.77 L100.70,194.74 L106.50,197.71 L100.70,200.68 L143.00,200.68 L137.60,197.71 L147.30,194.74 L137.60,191.77 L147.30,188.80 L139.00,185.83 L149.30,182.86 L136.28,179.89 L130.70,176.92 L124.50,173.95 L134.00,170.98 L125.20,168.01 L135.50,165.04 L126.60,162.07 L126.00,159.10 Z" fill="#FFA500"/>
<polyline points="109.00,159.10 111.50,165.04 103.50,170.98 109.70,176.92 132.80,182.86 125.90,188.80 124.30,194.74 121.70,200.68" fill="none" stroke="#000" stroke-width="1.3" stroke-linejoin="round"/>
<path d="M74.70,159.30 H158.31" stroke="#000" stroke-width="0.9" fill="none"/>
<path d="M76.29,159.10 v-1.8" stroke="#000" stroke-width="0.8"/>
<text x="76.29" y="152.10" class="tk">-3</text>
<path d="M89.96,159.10 v-1.8" stroke="#000" stroke-width="0.8"/>
<text x="89.96" y="152.10" class="tk">-2</text>
<path d="M103.63,159.10 v-1.8" stroke="#000" stroke-width="0.8"/>
<text x="103.63" y="152.10" class="tk">-1</text>
<path d="M117.30,159.10 v-1.8" stroke="#000" stroke-width="0.8"/>
<text x="117.30" y="152.10" class="tk">0</text>
<path d="M130.97,159.10 v-1.8" stroke="#000" stroke-width="0.8"/>
<text x="130.97" y="152.10" class="tk">1</text>
<path d="M144.64,159.10 v-1.8" stroke="#000" stroke-width="0.8"/>
<text x="144.64" y="152.10" class="tk">2</text>
<path d="M158.31,159.10 v-1.8" stroke="#000" stroke-width="0.8"/>
<text x="158.31" y="152.10" class="tk">3</text>
<path d="M76.30,159.10 V201.08" stroke="#000" stroke-width="0.9" fill="none"/>
<path d="M76.30,159.10 h-1.6" stroke="#000" stroke-width="0.8"/>
<text x="72.70" y="160.60" class="yl">TR1</text>
<path d="M76.30,165.04 h-1.6" stroke="#000" stroke-width="0.8"/>
<text x="72.70" y="166.54" class="yl">CR1</text>
<path d="M76.30,170.98 h-1.6" stroke="#000" stroke-width="0.8"/>
<text x="72.70" y="172.48" class="yl">TS1</text>
<path d="M76.30,176.92 h-1.6" stroke="#000" stroke-width="0.8"/>
<text x="72.70" y="178.42" class="yl">CS1</text>
<path d="M76.30,182.86 h-1.6" stroke="#000" stroke-width="0.8"/>
<text x="72.70" y="184.36" class="yl">TR2</text>
<path d="M76.30,188.80 h-1.6" stroke="#000" stroke-width="0.8"/>
<text x="72.70" y="190.30" class="yl">CR2</text>
<path d="M76.30,194.74 h-1.6" stroke="#000" stroke-width="0.8"/>
<text x="72.70" y="196.24" class="yl">TS2</text>
<path d="M76.30,200.68 h-1.6" stroke="#000" stroke-width="0.8"/>
<text x="72.70" y="202.18" class="yl">CS2</text>
<text x="99.90" y="140.20" class="st" textLength="34.8" lengthAdjust="spacingAndGlyphs">Standardised value</text>
<text transform="translate(167.10,182.50) rotate(90)" class="sc">Sub Class 2 , total: 634</text>
<path d="M241.40,159.10 L237.80,162.07 L229.40,165.04 L224.09,168.01 L211.70,170.98 L221.99,173.95 L226.40,176.92 L226.51,179.89 L218.60,182.86 L226.99,185.83 L230.50,188.80 L225.91,191.77 L215.20,194.74 L225.91,197.71 L230.50,200.68 L270.80,200.68 L264.61,197.71 L264.20,194.74 L266.14,191.77 L273.40,188.80 L265.73,185.83 L263.20,182.86 L263.43,179.89 L269.50,176.92 L262.16,173.95 L260.10,170.98 L263.97,168.01 L273.00,165.04 L268.81,162.07 L271.30,159.10 Z" fill="#FF0000"/>
<polyline points="256.60,159.10 255.20,165.04 223.70,170.98 244.80,176.92 235.60,182.86 252.40,188.80 237.60,194.74 251.00,200.68" fill="none" stroke="#000" stroke-width="1.3" stroke-linejoin="round"/>
<path d="M201.60,159.30 H284.91" stroke="#000" stroke-width="0.9" fill="none"/>
<path d="M203.19,159.10 v-1.8" stroke="#000" stroke-width="0.8"/>
<text x="203.19" y="152.10" class="tk">-3</text>
<path d="M216.81,159.10 v-1.8" stroke="#000" stroke-width="0.8"/>
<text x="216.81" y="152.10" class="tk">-2</text>
<path d="M230.43,159.10 v-1.8" stroke="#000" stroke-width="0.8"/>
<text x="230.43" y="152.10" class="tk">-1</text>
<path d="M244.05,159.10 v-1.8" stroke="#000" stroke-width="0.8"/>
<text x="244.05" y="152.10" class="tk">0</text>
<path d="M257.67,159.10 v-1.8" stroke="#000" stroke-width="0.8"/>
<text x="257.67" y="152.10" class="tk">1</text>
<path d="M271.29,159.10 v-1.8" stroke="#000" stroke-width="0.8"/>
<text x="271.29" y="152.10" class="tk">2</text>
<path d="M284.91,159.10 v-1.8" stroke="#000" stroke-width="0.8"/>
<text x="284.91" y="152.10" class="tk">3</text>
<path d="M203.20,159.10 V201.08" stroke="#000" stroke-width="0.9" fill="none"/>
<path d="M203.20,159.10 h-1.6" stroke="#000" stroke-width="0.8"/>
<text x="199.60" y="160.60" class="yl">TR1</text>
<path d="M203.20,165.04 h-1.6" stroke="#000" stroke-width="0.8"/>
<text x="199.60" y="166.54" class="yl">CR1</text>
<path d="M203.20,170.98 h-1.6" stroke="#000" stroke-width="0.8"/>
<text x="199.60" y="172.48" class="yl">TS1</text>
<path d="M203.20,176.92 h-1.6" stroke="#000" stroke-width="0.8"/>
<text x="199.60" y="178.42" class="yl">CS1</text>
<path d="M203.20,182.86 h-1.6" stroke="#000" stroke-width="0.8"/>
<text x="199.60" y="184.36" class="yl">TR2</text>
<path d="M203.20,188.80 h-1.6" stroke="#000" stroke-width="0.8"/>
<text x="199.60" y="190.30" class="yl">CR2</text>
<path d="M203.20,194.74 h-1.6" stroke="#000" stroke-width="0.8"/>
<text x="199.60" y="196.24" class="yl">TS2</text>
<path d="M203.20,200.68 h-1.6" stroke="#000" stroke-width="0.8"/>
<text x="199.60" y="202.18" class="yl">CS2</text>
<text x="226.65" y="140.20" class="st" textLength="34.8" lengthAdjust="spacingAndGlyphs">Standardised value</text>
<text transform="translate(294.10,182.50) rotate(90)" class="sc">Sub Class 1 , total: 1086</text>
<path d="M99.50,238.97 L107.90,241.94 L111.50,244.91 L104.48,247.88 L88.10,250.85 L100.28,253.82 L105.50,256.79 L101.15,259.76 L91.00,262.73 L101.15,265.70 L105.50,268.67 L100.91,271.64 L90.20,274.61 L98.52,277.58 L101.50,280.55 L142.00,280.55 L134.01,277.58 L133.50,274.61 L137.10,271.64 L145.50,268.67 L137.22,265.70 L134.50,262.73 L138.97,259.76 L149.40,256.79 L138.62,253.82 L134.00,250.85 L138.80,247.88 L150.00,244.91 L138.45,241.94 L133.50,238.97 Z" fill="rgb(174,234,52)"/>
<polyline points="117.30,238.97 134.20,244.91 101.40,250.85 125.60,256.79 105.60,262.73 123.50,268.67 106.20,274.61 124.20,280.55" fill="none" stroke="#000" stroke-width="1.3" stroke-linejoin="round"/>
<path d="M74.70,239.17 H158.31" stroke="#000" stroke-width="0.9" fill="none"/>
<path d="M76.29,238.97 v-1.8" stroke="#000" stroke-width="0.8"/>
<text x="76.29" y="231.97" class="tk">-3</text>
<path d="M89.96,238.97 v-1.8" stroke="#000" stroke-width="0.8"/>
<text x="89.96" y="231.97" class="tk">-2</text>
<path d="M103.63,238.97 v-1.8" stroke="#000" stroke-width="0.8"/>
<text x="103.63" y="231.97" class="tk">-1</text>
<path d="M117.30,238.97 v-1.8" stroke="#000" stroke-width="0.8"/>
<text x="117.30" y="231.97" class="tk">0</text>
<path d="M130.97,238.97 v-1.8" stroke="#000" stroke-width="0.8"/>
<text x="130.97" y="231.97" class="tk">1</text>
<path d="M144.64,238.97 v-1.8" stroke="#000" stroke-width="0.8"/>
<text x="144.64" y="231.97" class="tk">2</text>
<path d="M158.31,238.97 v-1.8" stroke="#000" stroke-width="0.8"/>
<text x="158.31" y="231.97" class="tk">3</text>
<path d="M76.30,238.97 V280.95" stroke="#000" stroke-width="0.9" fill="none"/>
<path d="M76.30,238.97 h-1.6" stroke="#000" stroke-width="0.8"/>
<text x="72.70" y="240.47" class="yl">TR1</text>
<path d="M76.30,244.91 h-1.6" stroke="#000" stroke-width="0.8"/>
<text x="72.70" y="246.41" class="yl">CR1</text>
<path d="M76.30,250.85 h-1.6" stroke="#000" stroke-width="0.8"/>
<text x="72.70" y="252.35" class="yl">TS1</text>
<path d="M76.30,256.79 h-1.6" stroke="#000" stroke-width="0.8"/>
<text x="72.70" y="258.29" class="yl">CS1</text>
<path d="M76.30,262.73 h-1.6" stroke="#000" stroke-width="0.8"/>
<text x="72.70" y="264.23" class="yl">TR2</text>
<path d="M76.30,268.67 h-1.6" stroke="#000" stroke-width="0.8"/>
<text x="72.70" y="270.17" class="yl">CR2</text>
<path d="M76.30,274.61 h-1.6" stroke="#000" stroke-width="0.8"/>
<text x="72.70" y="276.11" class="yl">TS2</text>
<path d="M76.30,280.55 h-1.6" stroke="#000" stroke-width="0.8"/>
<text x="72.70" y="282.05" class="yl">CS2</text>
<text x="99.90" y="220.07" class="st" textLength="34.8" lengthAdjust="spacingAndGlyphs">Standardised value</text>
<text transform="translate(167.10,262.37) rotate(90)" class="sc">Sub Class 4 , total: 1439</text>
<path d="M220.90,238.97 L227.98,241.94 L221.60,244.91 L249.88,247.88 L262.00,250.85 L248.62,253.82 L217.40,256.79 L223.78,259.76 L216.70,262.73 L223.94,265.70 L218.80,268.67 L225.88,271.64 L219.50,274.61 L227.06,277.58 L224.30,280.55 L261.60,280.55 L254.44,277.58 L260.20,274.61 L255.06,271.64 L262.30,268.67 L255.30,265.70 L262.30,262.73 L255.15,259.76 L261.00,256.79 L266.13,253.82 L278.10,250.85 L269.90,247.88 L267.80,244.91 L266.00,241.94 L269.20,238.97 Z" fill="#EEC900"/>
<polyline points="245.00,238.97 240.20,244.91 274.00,250.85 245.00,256.79 239.80,262.73 234.70,268.67 242.30,274.61 234.70,280.55" fill="none" stroke="#000" stroke-width="1.3" stroke-linejoin="round"/>
<path d="M201.60,239.17 H284.91" stroke="#000" stroke-width="0.9" fill="none"/>
<path d="M203.19,238.97 v-1.8" stroke="#000" stroke-width="0.8"/>
<text x="203.19" y="231.97" class="tk">-3</text>
<path d="M216.81,238.97 v-1.8" stroke="#000" stroke-width="0.8"/>
<text x="216.81" y="231.97" class="tk">-2</text>
<path d="M230.43,238.97 v-1.8" stroke="#000" stroke-width="0.8"/>
<text x="230.43" y="231.97" class="tk">-1</text>
<path d="M244.05,238.97 v-1.8" stroke="#000" stroke-width="0.8"/>
<text x="244.05" y="231.97" class="tk">0</text>
<path d="M257.67,238.97 v-1.8" stroke="#000" stroke-width="0.8"/>
<text x="257.67" y="231.97" class="tk">1</text>
<path d="M271.29,238.97 v-1.8" stroke="#000" stroke-width="0.8"/>
<text x="271.29" y="231.97" class="tk">2</text>
<path d="M284.91,238.97 v-1.8" stroke="#000" stroke-width="0.8"/>
<text x="284.91" y="231.97" class="tk">3</text>
<path d="M203.20,238.97 V280.95" stroke="#000" stroke-width="0.9" fill="none"/>
<path d="M203.20,238.97 h-1.6" stroke="#000" stroke-width="0.8"/>
<text x="199.60" y="240.47" class="yl">TR1</text>
<path d="M203.20,244.91 h-1.6" stroke="#000" stroke-width="0.8"/>
<text x="199.60" y="246.41" class="yl">CR1</text>
<path d="M203.20,250.85 h-1.6" stroke="#000" stroke-width="0.8"/>
<text x="199.60" y="252.35" class="yl">TS1</text>
<path d="M203.20,256.79 h-1.6" stroke="#000" stroke-width="0.8"/>
<text x="199.60" y="258.29" class="yl">CS1</text>
<path d="M203.20,262.73 h-1.6" stroke="#000" stroke-width="0.8"/>
<text x="199.60" y="264.23" class="yl">TR2</text>
<path d="M203.20,268.67 h-1.6" stroke="#000" stroke-width="0.8"/>
<text x="199.60" y="270.17" class="yl">CR2</text>
<path d="M203.20,274.61 h-1.6" stroke="#000" stroke-width="0.8"/>
<text x="199.60" y="276.11" class="yl">TS2</text>
<path d="M203.20,280.55 h-1.6" stroke="#000" stroke-width="0.8"/>
<text x="199.60" y="282.05" class="yl">CS2</text>
<text x="226.65" y="220.07" class="st" textLength="34.8" lengthAdjust="spacingAndGlyphs">Standardised value</text>
<text transform="translate(294.10,262.37) rotate(90)" class="sc">Sub Class 3 , total: 3017</text>
<path d="M107.00,318.84 L102.62,321.81 L92.40,324.78 L99.73,327.75 L95.20,330.72 L102.68,333.69 L99.30,336.66 L99.59,339.63 L91.70,342.60 L95.70,345.57 L88.30,348.54 L94.68,351.51 L87.60,354.48 L94.93,357.45 L90.40,360.42 L129.30,360.42 L134.07,357.45 L145.20,354.48 L137.15,351.51 L136.20,348.54 L129.20,345.57 L136.20,342.60 L140.16,339.63 L149.40,336.66 L140.16,333.69 L136.20,330.72 L139.01,327.75 L147.30,324.78 L142.69,321.81 L150.00,318.84 Z" fill="#6495ED"/>
<polyline points="132.80,318.84 128.00,324.78 116.90,330.72 125.20,336.66 108.50,342.60 109.70,348.54 112.50,354.48 106.90,360.42" fill="none" stroke="#000" stroke-width="1.3" stroke-linejoin="round"/>
<path d="M74.70,319.04 H158.31" stroke="#000" stroke-width="0.9" fill="none"/>
<path d="M76.29,318.84 v-1.8" stroke="#000" stroke-width="0.8"/>
<text x="76.29" y="311.84" class="tk">-3</text>
<path d="M89.96,318.84 v-1.8" stroke="#000" stroke-width="0.8"/>
<text x="89.96" y="311.84" class="tk">-2</text>
<path d="M103.63,318.84 v-1.8" stroke="#000" stroke-width="0.8"/>
<text x="103.63" y="311.84" class="tk">-1</text>
<path d="M117.30,318.84 v-1.8" stroke="#000" stroke-width="0.8"/>
<text x="117.30" y="311.84" class="tk">0</text>
<path d="M130.97,318.84 v-1.8" stroke="#000" stroke-width="0.8"/>
<text x="130.97" y="311.84" class="tk">1</text>
<path d="M144.64,318.84 v-1.8" stroke="#000" stroke-width="0.8"/>
<text x="144.64" y="311.84" class="tk">2</text>
<path d="M158.31,318.84 v-1.8" stroke="#000" stroke-width="0.8"/>
<text x="158.31" y="311.84" class="tk">3</text>
<path d="M76.30,318.84 V360.82" stroke="#000" stroke-width="0.9" fill="none"/>
<path d="M76.30,318.84 h-1.6" stroke="#000" stroke-width="0.8"/>
<text x="72.70" y="320.34" class="yl">TR1</text>
<path d="M76.30,324.78 h-1.6" stroke="#000" stroke-width="0.8"/>
<text x="72.70" y="326.28" class="yl">CR1</text>
<path d="M76.30,330.72 h-1.6" stroke="#000" stroke-width="0.8"/>
<text x="72.70" y="332.22" class="yl">TS1</text>
<path d="M76.30,336.66 h-1.6" stroke="#000" stroke-width="0.8"/>
<text x="72.70" y="338.16" class="yl">CS1</text>
<path d="M76.30,342.60 h-1.6" stroke="#000" stroke-width="0.8"/>
<text x="72.70" y="344.10" class="yl">TR2</text>
<path d="M76.30,348.54 h-1.6" stroke="#000" stroke-width="0.8"/>
<text x="72.70" y="350.04" class="yl">CR2</text>
<path d="M76.30,354.48 h-1.6" stroke="#000" stroke-width="0.8"/>
<text x="72.70" y="355.98" class="yl">TS2</text>
<path d="M76.30,360.42 h-1.6" stroke="#000" stroke-width="0.8"/>
<text x="72.70" y="361.92" class="yl">CS2</text>
<text x="99.90" y="299.94" class="st" textLength="34.8" lengthAdjust="spacingAndGlyphs">Standardised value</text>
<text transform="translate(167.10,342.24) rotate(90)" class="sc">Sub Class 6 , total: 833</text>
<path d="M225.40,318.84 L229.84,321.81 L222.50,324.78 L221.99,327.75 L214.00,330.72 L222.22,333.69 L224.50,336.66 L225.23,339.63 L217.40,342.60 L226.92,345.57 L231.00,348.54 L227.34,351.51 L218.80,354.48 L228.74,357.45 L233.00,360.42 L278.10,360.42 L267.18,357.45 L262.50,354.48 L267.18,351.51 L278.10,348.54 L265.08,345.57 L259.50,342.60 L262.84,339.63 L271.20,336.66 L261.54,333.69 L257.40,330.72 L257.11,327.75 L265.00,324.78 L256.63,321.81 L253.30,318.84 Z" fill="rgb(142,232,142)"/>
<polyline points="240.00,318.84 248.30,324.78 228.60,330.72 245.60,336.66 235.90,342.60 260.10,348.54 237.30,354.48 261.40,360.42" fill="none" stroke="#000" stroke-width="1.3" stroke-linejoin="round"/>
<path d="M201.60,319.04 H284.91" stroke="#000" stroke-width="0.9" fill="none"/>
<path d="M203.19,318.84 v-1.8" stroke="#000" stroke-width="0.8"/>
<text x="203.19" y="311.84" class="tk">-3</text>
<path d="M216.81,318.84 v-1.8" stroke="#000" stroke-width="0.8"/>
<text x="216.81" y="311.84" class="tk">-2</text>
<path d="M230.43,318.84 v-1.8" stroke="#000" stroke-width="0.8"/>
<text x="230.43" y="311.84" class="tk">-1</text>
<path d="M244.05,318.84 v-1.8" stroke="#000" stroke-width="0.8"/>
<text x="244.05" y="311.84" class="tk">0</text>
<path d="M257.67,318.84 v-1.8" stroke="#000" stroke-width="0.8"/>
<text x="257.67" y="311.84" class="tk">1</text>
<path d="M271.29,318.84 v-1.8" stroke="#000" stroke-width="0.8"/>
<text x="271.29" y="311.84" class="tk">2</text>
<path d="M284.91,318.84 v-1.8" stroke="#000" stroke-width="0.8"/>
<text x="284.91" y="311.84" class="tk">3</text>
<path d="M203.20,318.84 V360.82" stroke="#000" stroke-width="0.9" fill="none"/>
<path d="M203.20,318.84 h-1.6" stroke="#000" stroke-width="0.8"/>
<text x="199.60" y="320.34" class="yl">TR1</text>
<path d="M203.20,324.78 h-1.6" stroke="#000" stroke-width="0.8"/>
<text x="199.60" y="326.28" class="yl">CR1</text>
<path d="M203.20,330.72 h-1.6" stroke="#000" stroke-width="0.8"/>
<text x="199.60" y="332.22" class="yl">TS1</text>
<path d="M203.20,336.66 h-1.6" stroke="#000" stroke-width="0.8"/>
<text x="199.60" y="338.16" class="yl">CS1</text>
<path d="M203.20,342.60 h-1.6" stroke="#000" stroke-width="0.8"/>
<text x="199.60" y="344.10" class="yl">TR2</text>
<path d="M203.20,348.54 h-1.6" stroke="#000" stroke-width="0.8"/>
<text x="199.60" y="350.04" class="yl">CR2</text>
<path d="M203.20,354.48 h-1.6" stroke="#000" stroke-width="0.8"/>
<text x="199.60" y="355.98" class="yl">TS2</text>
<path d="M203.20,360.42 h-1.6" stroke="#000" stroke-width="0.8"/>
<text x="199.60" y="361.92" class="yl">CS2</text>
<text x="226.65" y="299.94" class="st" textLength="34.8" lengthAdjust="spacingAndGlyphs">Standardised value</text>
<text transform="translate(294.10,342.24) rotate(90)" class="sc">Sub Class 5 , total: 2176</text>
<path d="M96.60,398.71 L99.27,401.68 L91.70,404.65 L109.62,407.62 L117.30,410.59 L109.23,413.56 L90.40,416.53 L102.44,419.50 L107.60,422.47 L102.62,425.44 L91.00,428.41 L102.62,431.38 L107.60,434.35 L102.02,437.32 L89.00,440.29 L128.00,440.29 L133.58,437.32 L146.60,434.35 L133.58,431.38 L128.00,428.41 L132.35,425.44 L142.50,422.47 L134.29,419.50 L132.10,416.53 L136.66,413.56 L147.30,410.59 L135.68,407.62 L130.70,404.65 L134.42,401.68 L143.10,398.71 Z" fill="rgb(0,232,238)"/>
<polyline points="117.30,398.71 108.30,404.65 137.60,410.59 113.10,416.53 126.80,422.47 105.60,428.41 127.20,434.35 104.20,440.29" fill="none" stroke="#000" stroke-width="1.3" stroke-linejoin="round"/>
<path d="M74.70,398.91 H158.31" stroke="#000" stroke-width="0.9" fill="none"/>
<path d="M76.29,398.71 v-1.8" stroke="#000" stroke-width="0.8"/>
<text x="76.29" y="391.71" class="tk">-3</text>
<path d="M89.96,398.71 v-1.8" stroke="#000" stroke-width="0.8"/>
<text x="89.96" y="391.71" class="tk">-2</text>
<path d="M103.63,398.71 v-1.8" stroke="#000" stroke-width="0.8"/>
<text x="103.63" y="391.71" class="tk">-1</text>
<path d="M117.30,398.71 v-1.8" stroke="#000" stroke-width="0.8"/>
<text x="117.30" y="391.71" class="tk">0</text>
<path d="M130.97,398.71 v-1.8" stroke="#000" stroke-width="0.8"/>
<text x="130.97" y="391.71" class="tk">1</text>
<path d="M144.64,398.71 v-1.8" stroke="#000" stroke-width="0.8"/>
<text x="144.64" y="391.71" class="tk">2</text>
<path d="M158.31,398.71 v-1.8" stroke="#000" stroke-width="0.8"/>
<text x="158.31" y="391.71" class="tk">3</text>
<path d="M76.30,398.71 V440.69" stroke="#000" stroke-width="0.9" fill="none"/>
<path d="M76.30,398.71 h-1.6" stroke="#000" stroke-width="0.8"/>
<text x="72.70" y="400.21" class="yl">TR1</text>
<path d="M76.30,404.65 h-1.6" stroke="#000" stroke-width="0.8"/>
<text x="72.70" y="406.15" class="yl">CR1</text>
<path d="M76.30,410.59 h-1.6" stroke="#000" stroke-width="0.8"/>
<text x="72.70" y="412.09" class="yl">TS1</text>
<path d="M76.30,416.53 h-1.6" stroke="#000" stroke-width="0.8"/>
<text x="72.70" y="418.03" class="yl">CS1</text>
<path d="M76.30,422.47 h-1.6" stroke="#000" stroke-width="0.8"/>
<text x="72.70" y="423.97" class="yl">TR2</text>
<path d="M76.30,428.41 h-1.6" stroke="#000" stroke-width="0.8"/>
<text x="72.70" y="429.91" class="yl">CR2</text>
<path d="M76.30,434.35 h-1.6" stroke="#000" stroke-width="0.8"/>
<text x="72.70" y="435.85" class="yl">TS2</text>
<path d="M76.30,440.29 h-1.6" stroke="#000" stroke-width="0.8"/>
<text x="72.70" y="441.79" class="yl">CS2</text>
<text x="99.90" y="379.81" class="st" textLength="34.8" lengthAdjust="spacingAndGlyphs">Standardised value</text>
<text transform="translate(167.10,422.11) rotate(90)" class="sc">Sub Class 8 , total: 1699</text>
<path d="M220.20,398.71 L227.68,401.68 L224.30,404.65 L231.78,407.62 L228.40,410.59 L236.00,413.56 L233.50,416.53 L227.68,419.50 L214.10,422.47 L221.81,425.44 L220.20,428.41 L227.56,431.38 L223.30,434.35 L230.42,437.32 L224.30,440.29 L271.50,440.29 L268.92,437.32 L276.50,434.35 L268.78,431.38 L270.30,428.41 L262.59,425.44 L264.20,422.47 L267.89,419.50 L276.50,416.53 L268.78,413.56 L270.30,410.59 L262.95,407.62 L267.30,404.65 L262.07,401.68 L269.30,398.71 Z" fill="rgb(112,96,225)"/>
<polyline points="235.40,398.71 238.10,404.65 246.40,410.59 258.80,416.53 235.40,422.47 238.10,428.41 253.30,434.35 246.40,440.29" fill="none" stroke="#000" stroke-width="1.3" stroke-linejoin="round"/>
<path d="M201.60,398.91 H284.91" stroke="#000" stroke-width="0.9" fill="none"/>
<path d="M203.19,398.71 v-1.8" stroke="#000" stroke-width="0.8"/>
<text x="203.19" y="391.71" class="tk">-3</text>
<path d="M216.81,398.71 v-1.8" stroke="#000" stroke-width="0.8"/>
<text x="216.81" y="391.71" class="tk">-2</text>
<path d="M230.43,398.71 v-1.8" stroke="#000" stroke-width="0.8"/>
<text x="230.43" y="391.71" class="tk">-1</text>
<path d="M244.05,398.71 v-1.8" stroke="#000" stroke-width="0.8"/>
<text x="244.05" y="391.71" class="tk">0</text>
<path d="M257.67,398.71 v-1.8" stroke="#000" stroke-width="0.8"/>
<text x="257.67" y="391.71" class="tk">1</text>
<path d="M271.29,398.71 v-1.8" stroke="#000" stroke-width="0.8"/>
<text x="271.29" y="391.71" class="tk">2</text>
<path d="M284.91,398.71 v-1.8" stroke="#000" stroke-width="0.8"/>
<text x="284.91" y="391.71" class="tk">3</text>
<path d="M203.20,398.71 V440.69" stroke="#000" stroke-width="0.9" fill="none"/>
<path d="M203.20,398.71 h-1.6" stroke="#000" stroke-width="0.8"/>
<text x="199.60" y="400.21" class="yl">TR1</text>
<path d="M203.20,404.65 h-1.6" stroke="#000" stroke-width="0.8"/>
<text x="199.60" y="406.15" class="yl">CR1</text>
<path d="M203.20,410.59 h-1.6" stroke="#000" stroke-width="0.8"/>
<text x="199.60" y="412.09" class="yl">TS1</text>
<path d="M203.20,416.53 h-1.6" stroke="#000" stroke-width="0.8"/>
<text x="199.60" y="418.03" class="yl">CS1</text>
<path d="M203.20,422.47 h-1.6" stroke="#000" stroke-width="0.8"/>
<text x="199.60" y="423.97" class="yl">TR2</text>
<path d="M203.20,428.41 h-1.6" stroke="#000" stroke-width="0.8"/>
<text x="199.60" y="429.91" class="yl">CR2</text>
<path d="M203.20,434.35 h-1.6" stroke="#000" stroke-width="0.8"/>
<text x="199.60" y="435.85" class="yl">TS2</text>
<path d="M203.20,440.29 h-1.6" stroke="#000" stroke-width="0.8"/>
<text x="199.60" y="441.79" class="yl">CS2</text>
<text x="226.65" y="379.81" class="st" textLength="34.8" lengthAdjust="spacingAndGlyphs">Standardised value</text>
<text transform="translate(294.10,422.11) rotate(90)" class="sc">Sub Class 7 , total: 532</text>
<path d="M93.80,478.58 L106.54,481.55 L112.00,484.52 L104.89,487.49 L88.30,490.46 L95.70,493.43 L91.70,496.40 L101.85,499.37 L106.20,502.34 L101.25,505.31 L89.70,508.28 L97.02,511.25 L92.40,514.22 L97.63,517.19 L90.40,520.16 L137.00,520.16 L136.01,517.19 L143.80,514.22 L136.32,511.25 L139.70,508.28 L141.80,505.31 L150.00,502.34 L141.95,499.37 L141.00,496.40 L133.60,493.43 L137.60,490.46 L141.53,487.49 L150.70,484.52 L141.53,481.55 L137.60,478.58 Z" fill="rgb(122,238,5)"/>
<polyline points="114.60,478.58 134.90,484.52 111.20,490.46 113.10,496.40 130.50,502.34 112.60,508.28 115.70,514.22 108.30,520.16" fill="none" stroke="#000" stroke-width="1.3" stroke-linejoin="round"/>
<path d="M74.70,478.78 H158.31" stroke="#000" stroke-width="0.9" fill="none"/>
<path d="M76.29,478.58 v-1.8" stroke="#000" stroke-width="0.8"/>
<text x="76.29" y="471.58" class="tk">-3</text>
<path d="M89.96,478.58 v-1.8" stroke="#000" stroke-width="0.8"/>
<text x="89.96" y="471.58" class="tk">-2</text>
<path d="M103.63,478.58 v-1.8" stroke="#000" stroke-width="0.8"/>
<text x="103.63" y="471.58" class="tk">-1</text>
<path d="M117.30,478.58 v-1.8" stroke="#000" stroke-width="0.8"/>
<text x="117.30" y="471.58" class="tk">0</text>
<path d="M130.97,478.58 v-1.8" stroke="#000" stroke-width="0.8"/>
<text x="130.97" y="471.58" class="tk">1</text>
<path d="M144.64,478.58 v-1.8" stroke="#000" stroke-width="0.8"/>
<text x="144.64" y="471.58" class="tk">2</text>
<path d="M158.31,478.58 v-1.8" stroke="#000" stroke-width="0.8"/>
<text x="158.31" y="471.58" class="tk">3</text>
<path d="M76.30,478.58 V520.56" stroke="#000" stroke-width="0.9" fill="none"/>
<path d="M76.30,478.58 h-1.6" stroke="#000" stroke-width="0.8"/>
<text x="72.70" y="480.08" class="yl">TR1</text>
<path d="M76.30,484.52 h-1.6" stroke="#000" stroke-width="0.8"/>
<text x="72.70" y="486.02" class="yl">CR1</text>
<path d="M76.30,490.46 h-1.6" stroke="#000" stroke-width="0.8"/>
<text x="72.70" y="491.96" class="yl">TS1</text>
<path d="M76.30,496.40 h-1.6" stroke="#000" stroke-width="0.8"/>
<text x="72.70" y="497.90" class="yl">CS1</text>
<path d="M76.30,502.34 h-1.6" stroke="#000" stroke-width="0.8"/>
<text x="72.70" y="503.84" class="yl">TR2</text>
<path d="M76.30,508.28 h-1.6" stroke="#000" stroke-width="0.8"/>
<text x="72.70" y="509.78" class="yl">CR2</text>
<path d="M76.30,514.22 h-1.6" stroke="#000" stroke-width="0.8"/>
<text x="72.70" y="515.72" class="yl">TS2</text>
<path d="M76.30,520.16 h-1.6" stroke="#000" stroke-width="0.8"/>
<text x="72.70" y="521.66" class="yl">CS2</text>
<text x="99.90" y="459.68" class="st" textLength="34.8" lengthAdjust="spacingAndGlyphs">Standardised value</text>
<text transform="translate(167.10,501.98) rotate(90)" class="sc">Sub Class 10 , total: 783</text>
<path d="M215.10,478.58 L221.22,481.55 L214.10,484.52 L221.58,487.49 L218.20,490.46 L225.20,493.43 L218.20,496.40 L228.91,499.37 L233.50,502.34 L228.91,505.31 L218.20,508.28 L226.27,511.25 L227.40,514.22 L226.27,517.19 L218.20,520.16 L264.00,520.16 L268.23,517.19 L278.10,514.22 L265.57,511.25 L260.20,508.28 L265.57,505.31 L278.10,502.34 L264.59,499.37 L258.80,496.40 L253.04,493.43 L260.20,490.46 L252.87,487.49 L257.40,484.52 L261.15,481.55 L269.90,478.58 Z" fill="rgb(240,105,105)"/>
<polyline points="241.60,478.58 237.50,484.52 243.00,490.46 237.50,496.40 265.70,502.34 236.10,508.28 258.10,514.22 234.00,520.16" fill="none" stroke="#000" stroke-width="1.3" stroke-linejoin="round"/>
<path d="M201.60,478.78 H284.91" stroke="#000" stroke-width="0.9" fill="none"/>
<path d="M203.19,478.58 v-1.8" stroke="#000" stroke-width="0.8"/>
<text x="203.19" y="471.58" class="tk">-3</text>
<path d="M216.81,478.58 v-1.8" stroke="#000" stroke-width="0.8"/>
<text x="216.81" y="471.58" class="tk">-2</text>
<path d="M230.43,478.58 v-1.8" stroke="#000" stroke-width="0.8"/>
<text x="230.43" y="471.58" class="tk">-1</text>
<path d="M244.05,478.58 v-1.8" stroke="#000" stroke-width="0.8"/>
<text x="244.05" y="471.58" class="tk">0</text>
<path d="M257.67,478.58 v-1.8" stroke="#000" stroke-width="0.8"/>
<text x="257.67" y="471.58" class="tk">1</text>
<path d="M271.29,478.58 v-1.8" stroke="#000" stroke-width="0.8"/>
<text x="271.29" y="471.58" class="tk">2</text>
<path d="M284.91,478.58 v-1.8" stroke="#000" stroke-width="0.8"/>
<text x="284.91" y="471.58" class="tk">3</text>
<path d="M203.20,478.58 V520.56" stroke="#000" stroke-width="0.9" fill="none"/>
<path d="M203.20,478.58 h-1.6" stroke="#000" stroke-width="0.8"/>
<text x="199.60" y="480.08" class="yl">TR1</text>
<path d="M203.20,484.52 h-1.6" stroke="#000" stroke-width="0.8"/>
<text x="199.60" y="486.02" class="yl">CR1</text>
<path d="M203.20,490.46 h-1.6" stroke="#000" stroke-width="0.8"/>
<text x="199.60" y="491.96" class="yl">TS1</text>
<path d="M203.20,496.40 h-1.6" stroke="#000" stroke-width="0.8"/>
<text x="199.60" y="497.90" class="yl">CS1</text>
<path d="M203.20,502.34 h-1.6" stroke="#000" stroke-width="0.8"/>
<text x="199.60" y="503.84" class="yl">TR2</text>
<path d="M203.20,508.28 h-1.6" stroke="#000" stroke-width="0.8"/>
<text x="199.60" y="509.78" class="yl">CR2</text>
<path d="M203.20,514.22 h-1.6" stroke="#000" stroke-width="0.8"/>
<text x="199.60" y="515.72" class="yl">TS2</text>
<path d="M203.20,520.16 h-1.6" stroke="#000" stroke-width="0.8"/>
<text x="199.60" y="521.66" class="yl">CS2</text>
<text x="226.65" y="459.68" class="st" textLength="34.8" lengthAdjust="spacingAndGlyphs">Standardised value</text>
<text transform="translate(294.10,501.98) rotate(90)" class="sc">Sub Class 9 , total: 1698</text>
<text x="175.7" y="544" class="pc">(C)</text>
</svg>
</body></html>
